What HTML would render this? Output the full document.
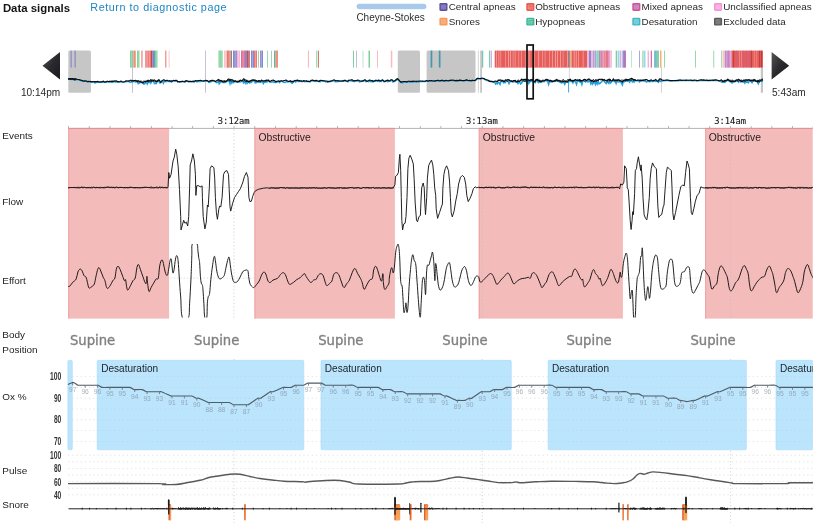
<!DOCTYPE html>
<html><head><meta charset="utf-8"><title>Data signals</title>
<style>
html,body{margin:0;padding:0;background:#fff;}
body{width:815px;height:523px;position:relative;overflow:hidden;font-family:"Liberation Sans",sans-serif;}
#labels div,#labels a{position:absolute;white-space:nowrap;text-decoration:none;}
</style></head><body>
<svg width="815" height="523" viewBox="0 0 815 523" style="position:absolute;left:0;top:0">
<defs><linearGradient id="arr" x1="0" y1="0" x2="1" y2="1"><stop offset="0" stop-color="#555"/><stop offset="0.5" stop-color="#2a2a2e"/><stop offset="1" stop-color="#1a1a1e"/></linearGradient><linearGradient id="sn" x1="0" y1="0" x2="0" y2="1"><stop offset="0" stop-color="#f08444"/><stop offset="0.4" stop-color="#f69a4e"/><stop offset="1" stop-color="#f8a860"/></linearGradient><clipPath id="eff"><rect x="68" y="244" width="747" height="73.6"/></clipPath></defs>
<rect x="357" y="4.2" width="69" height="4.6" rx="2" fill="#a6c9ec" stroke="#8fb8e2" stroke-width="0.6"/>
<rect x="439.4" y="3.0" width="8.1" height="7.9" rx="1.3" fill="#5d5299"/>
<rect x="440.8" y="4.4" width="5.3" height="5.1" rx="0.5" fill="#8878c2"/>
<rect x="526.3" y="3.0" width="8.1" height="7.9" rx="1.3" fill="#e85a55"/>
<rect x="527.7" y="4.4" width="5.3" height="5.1" rx="0.5" fill="#f0837a"/>
<rect x="632.3" y="3.0" width="8.1" height="7.9" rx="1.3" fill="#d4548e"/>
<rect x="633.7" y="4.4" width="5.3" height="5.1" rx="0.5" fill="#c987c8"/>
<rect x="714.0" y="3.0" width="8.1" height="7.9" rx="1.3" fill="#f497c4"/>
<rect x="715.4" y="4.4" width="5.3" height="5.1" rx="0.5" fill="#f8b0f0"/>
<rect x="439.4" y="17.7" width="8.1" height="7.9" rx="1.3" fill="#f5995a"/>
<rect x="440.8" y="19.1" width="5.3" height="5.1" rx="0.5" fill="#f8ae76"/>
<rect x="526.3" y="17.7" width="8.1" height="7.9" rx="1.3" fill="#3fb3a8"/>
<rect x="527.7" y="19.1" width="5.3" height="5.1" rx="0.5" fill="#80dc9e"/>
<rect x="632.3" y="17.7" width="8.1" height="7.9" rx="1.3" fill="#45b7c0"/>
<rect x="633.7" y="19.1" width="5.3" height="5.1" rx="0.5" fill="#74cde0"/>
<rect x="714.0" y="17.7" width="8.1" height="7.9" rx="1.3" fill="#58585e"/>
<rect x="715.4" y="19.1" width="5.3" height="5.1" rx="0.5" fill="#7c7c7c"/>
<path d="M528.9 24.2V20.4H532.9V24.2M530.9 21.6V24.2" fill="none" stroke="#3fb3a8" stroke-width="0.8"/>
<path d="M528.6 5 L531.6 8.6 M530.6 4.6 L533 7.6" fill="none" stroke="#e85a55" stroke-width="0.7"/>
<rect x="68.3" y="50.6" width="22.6" height="42.2" rx="1.5" fill="#c6c6c6"/>
<rect x="397.8" y="50.6" width="22.2" height="42.2" rx="1.5" fill="#c6c6c6"/>
<rect x="426.6" y="50.6" width="48.9" height="42.2" rx="1.5" fill="#c6c6c6"/>
<rect x="477.9" y="50.6" width="0.7" height="42.2" fill="#c6c6c6"/>
<rect x="480.2" y="50.6" width="1.8" height="42.2" fill="#c6c6c6"/>
<rect x="760.8" y="67.6" width="2.2" height="25.2" fill="#c6c6c6"/>
<rect x="132.2" y="50.6" width="0.8" height="42.2" fill="#b9b4cc"/>
<rect x="205.2" y="50.6" width="0.8" height="42.2" fill="#b9b4cc"/>
<rect x="661" y="67" width="0.8" height="25.8" fill="#c8c8c8"/>
<rect x="568.9" y="67" width="0.7" height="12" fill="#c8c8c8"/>
<rect x="70.6" y="50.6" width="1.0" height="17" fill="#7470c6" opacity="0.88"/>
<rect x="74.6" y="50.6" width="1.0" height="17" fill="#7470c6" opacity="0.88"/>
<rect x="130.0" y="50.6" width="2.4" height="17" fill="#6cc98c" opacity="0.62"/>
<rect x="130.0" y="50.6" width="0.6" height="17" fill="#6cc98c" opacity="0.95"/>
<rect x="131.8" y="50.6" width="0.6" height="17" fill="#6cc98c" opacity="0.95"/>
<rect x="133.4" y="50.6" width="1.4" height="17" fill="#e75d5a" opacity="0.88"/>
<rect x="134.8" y="50.6" width="1.2" height="17" fill="#f5a364" opacity="0.88"/>
<rect x="137.0" y="50.6" width="2.3" height="17" fill="#6cc98c" opacity="0.62"/>
<rect x="137.0" y="50.6" width="0.6" height="17" fill="#6cc98c" opacity="0.95"/>
<rect x="138.7" y="50.6" width="0.6" height="17" fill="#6cc98c" opacity="0.95"/>
<rect x="141.4" y="50.6" width="1.1" height="17" fill="#e75d5a" opacity="0.88"/>
<rect x="145.5" y="50.6" width="5.5" height="17" fill="#e75d5a" opacity="0.62"/>
<rect x="145.5" y="50.6" width="0.6" height="17" fill="#e75d5a" opacity="0.95"/>
<rect x="150.4" y="50.6" width="0.6" height="17" fill="#e75d5a" opacity="0.95"/>
<rect x="148.0" y="50.6" width="0.5" height="17" fill="#e75d5a" opacity="0.8"/>
<rect x="151.0" y="50.6" width="1.5" height="17" fill="#b83030" opacity="0.88"/>
<rect x="152.5" y="50.6" width="1.5" height="17" fill="#7470c6" opacity="0.88"/>
<rect x="154.0" y="50.6" width="1.3" height="17" fill="#3e9db8" opacity="0.88"/>
<rect x="155.3" y="50.6" width="2.0" height="17" fill="#6cc98c" opacity="0.62"/>
<rect x="155.3" y="50.6" width="0.6" height="17" fill="#6cc98c" opacity="0.95"/>
<rect x="156.7" y="50.6" width="0.6" height="17" fill="#6cc98c" opacity="0.95"/>
<rect x="165.3" y="50.6" width="1.0" height="17" fill="#e75d5a" opacity="0.88"/>
<rect x="168.7" y="50.6" width="0.8" height="17" fill="#f6b4b4" opacity="0.88"/>
<rect x="218.7" y="50.6" width="3.7" height="17" fill="#6cc98c" opacity="0.62"/>
<rect x="218.7" y="50.6" width="0.6" height="17" fill="#6cc98c" opacity="0.95"/>
<rect x="221.8" y="50.6" width="0.6" height="17" fill="#6cc98c" opacity="0.95"/>
<rect x="220.3" y="50.6" width="0.5" height="17" fill="#6cc98c" opacity="0.8"/>
<rect x="224.3" y="50.6" width="2.7" height="17" fill="#f6b4b4" opacity="0.62"/>
<rect x="224.3" y="50.6" width="0.6" height="17" fill="#f6b4b4" opacity="0.95"/>
<rect x="226.4" y="50.6" width="0.6" height="17" fill="#f6b4b4" opacity="0.95"/>
<rect x="227.0" y="50.6" width="3.5" height="17" fill="#e75d5a" opacity="0.62"/>
<rect x="227.0" y="50.6" width="0.6" height="17" fill="#e75d5a" opacity="0.95"/>
<rect x="229.9" y="50.6" width="0.6" height="17" fill="#e75d5a" opacity="0.95"/>
<rect x="228.5" y="50.6" width="0.5" height="17" fill="#e75d5a" opacity="0.8"/>
<rect x="231.0" y="50.6" width="1.0" height="17" fill="#4a9060" opacity="0.88"/>
<rect x="233.0" y="50.6" width="3.7" height="17" fill="#7470c6" opacity="0.62"/>
<rect x="233.0" y="50.6" width="0.6" height="17" fill="#7470c6" opacity="0.95"/>
<rect x="236.1" y="50.6" width="0.6" height="17" fill="#7470c6" opacity="0.95"/>
<rect x="234.6" y="50.6" width="0.5" height="17" fill="#7470c6" opacity="0.8"/>
<rect x="237.0" y="50.6" width="3.0" height="17" fill="#f3a9cf" opacity="0.62"/>
<rect x="237.0" y="50.6" width="0.6" height="17" fill="#f3a9cf" opacity="0.95"/>
<rect x="239.4" y="50.6" width="0.6" height="17" fill="#f3a9cf" opacity="0.95"/>
<rect x="241.0" y="50.6" width="3.8" height="17" fill="#d85080" opacity="0.62"/>
<rect x="241.0" y="50.6" width="0.6" height="17" fill="#d85080" opacity="0.95"/>
<rect x="244.2" y="50.6" width="0.6" height="17" fill="#d85080" opacity="0.95"/>
<rect x="242.7" y="50.6" width="0.5" height="17" fill="#d85080" opacity="0.8"/>
<rect x="245.0" y="50.6" width="2.0" height="17" fill="#7470c6" opacity="0.62"/>
<rect x="245.0" y="50.6" width="0.6" height="17" fill="#7470c6" opacity="0.95"/>
<rect x="246.4" y="50.6" width="0.6" height="17" fill="#7470c6" opacity="0.95"/>
<rect x="247.0" y="50.6" width="2.5" height="17" fill="#b83030" opacity="0.62"/>
<rect x="247.0" y="50.6" width="0.6" height="17" fill="#b83030" opacity="0.95"/>
<rect x="248.9" y="50.6" width="0.6" height="17" fill="#b83030" opacity="0.95"/>
<rect x="251.0" y="50.6" width="3.0" height="17" fill="#7470c6" opacity="0.62"/>
<rect x="251.0" y="50.6" width="0.6" height="17" fill="#7470c6" opacity="0.95"/>
<rect x="253.4" y="50.6" width="0.6" height="17" fill="#7470c6" opacity="0.95"/>
<rect x="254.0" y="50.6" width="3.0" height="17" fill="#e75d5a" opacity="0.62"/>
<rect x="254.0" y="50.6" width="0.6" height="17" fill="#e75d5a" opacity="0.95"/>
<rect x="256.4" y="50.6" width="0.6" height="17" fill="#e75d5a" opacity="0.95"/>
<rect x="258.0" y="50.6" width="0.8" height="17" fill="#6cc98c" opacity="0.88"/>
<rect x="260.3" y="50.6" width="2.7" height="17" fill="#7470c6" opacity="0.62"/>
<rect x="260.3" y="50.6" width="0.6" height="17" fill="#7470c6" opacity="0.95"/>
<rect x="262.4" y="50.6" width="0.6" height="17" fill="#7470c6" opacity="0.95"/>
<rect x="267.0" y="50.6" width="0.8" height="17" fill="#6cc98c" opacity="0.88"/>
<rect x="271.2" y="50.6" width="0.8" height="17" fill="#6cc98c" opacity="0.88"/>
<rect x="274.0" y="50.6" width="1.5" height="17" fill="#40b090" opacity="0.88"/>
<rect x="275.8" y="50.6" width="1.9" height="17" fill="#ee7050" opacity="0.62"/>
<rect x="275.8" y="50.6" width="0.6" height="17" fill="#ee7050" opacity="0.95"/>
<rect x="277.1" y="50.6" width="0.6" height="17" fill="#ee7050" opacity="0.95"/>
<rect x="307.9" y="50.6" width="1.1" height="17" fill="#f6b4b4" opacity="0.88"/>
<rect x="316.3" y="50.6" width="1.0" height="17" fill="#6cc98c" opacity="0.88"/>
<rect x="318.0" y="50.6" width="1.0" height="17" fill="#e75d5a" opacity="0.88"/>
<rect x="353.0" y="50.6" width="1.0" height="17" fill="#6cc98c" opacity="0.88"/>
<rect x="356.0" y="50.6" width="1.0" height="17" fill="#b8b0e0" opacity="0.88"/>
<rect x="362.6" y="50.6" width="0.8" height="17" fill="#a8dcb8" opacity="0.88"/>
<rect x="368.5" y="50.6" width="1.5" height="17" fill="#6cc98c" opacity="0.88"/>
<rect x="377.0" y="50.6" width="1.0" height="17" fill="#f6b4b4" opacity="0.88"/>
<rect x="390.8" y="50.6" width="1.5" height="17" fill="#f6b4b4" opacity="0.88"/>
<rect x="430.6" y="50.6" width="1.7" height="17" fill="#2f93ad" opacity="0.88"/>
<rect x="438.8" y="50.6" width="1.7" height="17" fill="#2f93ad" opacity="0.88"/>
<rect x="482.2" y="50.6" width="1.0" height="17" fill="#40b090" opacity="0.88"/>
<rect x="489.0" y="50.6" width="1.0" height="17" fill="#6cc98c" opacity="0.88"/>
<rect x="490.5" y="50.6" width="1.5" height="17" fill="#b8b0e0" opacity="0.88"/>
<rect x="494.7" y="50.6" width="74.3" height="17" fill="#e75d5a" opacity="1"/>
<rect x="569.0" y="50.6" width="1.0" height="17" fill="#3e9db8" opacity="0.88"/>
<rect x="570.0" y="50.6" width="1.5" height="17" fill="#f5a364" opacity="0.88"/>
<rect x="571.5" y="50.6" width="15.5" height="17" fill="#e75d5a" opacity="1"/>
<rect x="587.0" y="50.6" width="2.0" height="17" fill="#f3a9cf" opacity="0.62"/>
<rect x="587.0" y="50.6" width="0.6" height="17" fill="#f3a9cf" opacity="0.95"/>
<rect x="588.4" y="50.6" width="0.6" height="17" fill="#f3a9cf" opacity="0.95"/>
<rect x="589.0" y="50.6" width="2.0" height="17" fill="#7470c6" opacity="0.62"/>
<rect x="589.0" y="50.6" width="0.6" height="17" fill="#7470c6" opacity="0.95"/>
<rect x="590.4" y="50.6" width="0.6" height="17" fill="#7470c6" opacity="0.95"/>
<rect x="591.0" y="50.6" width="2.0" height="17" fill="#f3a9cf" opacity="0.62"/>
<rect x="591.0" y="50.6" width="0.6" height="17" fill="#f3a9cf" opacity="0.95"/>
<rect x="592.4" y="50.6" width="0.6" height="17" fill="#f3a9cf" opacity="0.95"/>
<rect x="593.0" y="50.6" width="3.0" height="17" fill="#a090d0" opacity="0.62"/>
<rect x="593.0" y="50.6" width="0.6" height="17" fill="#a090d0" opacity="0.95"/>
<rect x="595.4" y="50.6" width="0.6" height="17" fill="#a090d0" opacity="0.95"/>
<rect x="596.0" y="50.6" width="1.5" height="17" fill="#8fd0f0" opacity="0.88"/>
<rect x="597.5" y="50.6" width="2.0" height="17" fill="#6cc98c" opacity="0.62"/>
<rect x="597.5" y="50.6" width="0.6" height="17" fill="#6cc98c" opacity="0.95"/>
<rect x="598.9" y="50.6" width="0.6" height="17" fill="#6cc98c" opacity="0.95"/>
<rect x="599.5" y="50.6" width="4.0" height="17" fill="#c8609c" opacity="0.62"/>
<rect x="599.5" y="50.6" width="0.6" height="17" fill="#c8609c" opacity="0.95"/>
<rect x="602.9" y="50.6" width="0.6" height="17" fill="#c8609c" opacity="0.95"/>
<rect x="601.2" y="50.6" width="0.5" height="17" fill="#c8609c" opacity="0.8"/>
<rect x="603.5" y="50.6" width="1.0" height="17" fill="#f3a9cf" opacity="0.88"/>
<rect x="604.5" y="50.6" width="2.5" height="17" fill="#e75d5a" opacity="0.62"/>
<rect x="604.5" y="50.6" width="0.6" height="17" fill="#e75d5a" opacity="0.95"/>
<rect x="606.4" y="50.6" width="0.6" height="17" fill="#e75d5a" opacity="0.95"/>
<rect x="607.0" y="50.6" width="2.5" height="17" fill="#c8609c" opacity="0.62"/>
<rect x="607.0" y="50.6" width="0.6" height="17" fill="#c8609c" opacity="0.95"/>
<rect x="608.9" y="50.6" width="0.6" height="17" fill="#c8609c" opacity="0.95"/>
<rect x="609.5" y="50.6" width="2.1" height="17" fill="#f3a9cf" opacity="0.62"/>
<rect x="609.5" y="50.6" width="0.6" height="17" fill="#f3a9cf" opacity="0.95"/>
<rect x="611.0" y="50.6" width="0.6" height="17" fill="#f3a9cf" opacity="0.95"/>
<rect x="615.7" y="50.6" width="1.3" height="17" fill="#6cc98c" opacity="0.88"/>
<rect x="617.5" y="50.6" width="1.5" height="17" fill="#8fd0f0" opacity="0.88"/>
<rect x="619.5" y="50.6" width="1.5" height="17" fill="#b8b0e0" opacity="0.88"/>
<rect x="621.5" y="50.6" width="1.0" height="17" fill="#f3a9cf" opacity="0.88"/>
<rect x="622.8" y="50.6" width="2.2" height="17" fill="#7470c6" opacity="0.62"/>
<rect x="622.8" y="50.6" width="0.6" height="17" fill="#7470c6" opacity="0.95"/>
<rect x="624.4" y="50.6" width="0.6" height="17" fill="#7470c6" opacity="0.95"/>
<rect x="625.0" y="50.6" width="1.0" height="17" fill="#c8609c" opacity="0.88"/>
<rect x="631.0" y="50.6" width="0.8" height="17" fill="#a8dcb8" opacity="0.88"/>
<rect x="639.3" y="50.6" width="0.7" height="17" fill="#7470c6" opacity="0.88"/>
<rect x="642.4" y="50.6" width="1.1" height="17" fill="#6cc98c" opacity="0.88"/>
<rect x="644.0" y="50.6" width="1.5" height="17" fill="#8fd0f0" opacity="0.88"/>
<rect x="647.6" y="50.6" width="1.4" height="17" fill="#f3a9cf" opacity="0.88"/>
<rect x="650.7" y="50.6" width="1.3" height="17" fill="#c8609c" opacity="0.88"/>
<rect x="654.5" y="50.6" width="2.0" height="17" fill="#3e9db8" opacity="0.62"/>
<rect x="654.5" y="50.6" width="0.6" height="17" fill="#3e9db8" opacity="0.95"/>
<rect x="655.9" y="50.6" width="0.6" height="17" fill="#3e9db8" opacity="0.95"/>
<rect x="657.0" y="50.6" width="2.0" height="17" fill="#6cc98c" opacity="0.62"/>
<rect x="657.0" y="50.6" width="0.6" height="17" fill="#6cc98c" opacity="0.95"/>
<rect x="658.4" y="50.6" width="0.6" height="17" fill="#6cc98c" opacity="0.95"/>
<rect x="660.0" y="50.6" width="1.5" height="17" fill="#f5a364" opacity="0.88"/>
<rect x="664.0" y="50.6" width="0.8" height="17" fill="#6cc98c" opacity="0.88"/>
<rect x="695.0" y="50.6" width="0.8" height="17" fill="#6cc98c" opacity="0.88"/>
<rect x="713.4" y="50.6" width="0.8" height="17" fill="#6cc98c" opacity="0.88"/>
<rect x="721.0" y="50.6" width="0.7" height="17" fill="#6cc98c" opacity="0.88"/>
<rect x="722.7" y="50.6" width="2.3" height="17" fill="#f6b4b4" opacity="0.62"/>
<rect x="722.7" y="50.6" width="0.6" height="17" fill="#f6b4b4" opacity="0.95"/>
<rect x="724.4" y="50.6" width="0.6" height="17" fill="#f6b4b4" opacity="0.95"/>
<rect x="725.2" y="50.6" width="3.8" height="17" fill="#b070c0" opacity="0.62"/>
<rect x="725.2" y="50.6" width="0.6" height="17" fill="#b070c0" opacity="0.95"/>
<rect x="728.4" y="50.6" width="0.6" height="17" fill="#b070c0" opacity="0.95"/>
<rect x="726.9" y="50.6" width="0.5" height="17" fill="#b070c0" opacity="0.8"/>
<rect x="729.0" y="50.6" width="3.0" height="17" fill="#d878b0" opacity="0.62"/>
<rect x="729.0" y="50.6" width="0.6" height="17" fill="#d878b0" opacity="0.95"/>
<rect x="731.4" y="50.6" width="0.6" height="17" fill="#d878b0" opacity="0.95"/>
<rect x="732.0" y="50.6" width="31.0" height="17" fill="#e75d5a" opacity="1"/>
<rect x="496.0" y="50.6" width="0.6" height="17" fill="#f6b8b6"/>
<rect x="498.6" y="50.6" width="0.6" height="17" fill="#f6b8b6"/>
<rect x="500.6" y="50.6" width="0.5" height="17" fill="#f6b8b6"/>
<rect x="505.0" y="50.6" width="0.5" height="17" fill="#f6b8b6"/>
<rect x="508.2" y="50.6" width="0.7" height="17" fill="#f6b8b6"/>
<rect x="510.2" y="50.6" width="0.7" height="17" fill="#f6b8b6"/>
<rect x="512.8" y="50.6" width="0.5" height="17" fill="#f6b8b6"/>
<rect x="514.8" y="50.6" width="0.6" height="17" fill="#f6b8b6"/>
<rect x="518.6" y="50.6" width="0.5" height="17" fill="#f6b8b6"/>
<rect x="521.2" y="50.6" width="0.5" height="17" fill="#f6b8b6"/>
<rect x="525.6" y="50.6" width="0.6" height="17" fill="#f6b8b6"/>
<rect x="527.6" y="50.6" width="0.7" height="17" fill="#f6b8b6"/>
<rect x="529.6" y="50.6" width="0.5" height="17" fill="#f6b8b6"/>
<rect x="534.0" y="50.6" width="0.5" height="17" fill="#f6b8b6"/>
<rect x="538.4" y="50.6" width="0.7" height="17" fill="#f6b8b6"/>
<rect x="542.2" y="50.6" width="0.5" height="17" fill="#f6b8b6"/>
<rect x="544.8" y="50.6" width="0.5" height="17" fill="#f6b8b6"/>
<rect x="549.2" y="50.6" width="0.5" height="17" fill="#f6b8b6"/>
<rect x="552.4" y="50.6" width="0.6" height="17" fill="#f6b8b6"/>
<rect x="555.0" y="50.6" width="0.7" height="17" fill="#f6b8b6"/>
<rect x="557.0" y="50.6" width="0.7" height="17" fill="#f6b8b6"/>
<rect x="560.2" y="50.6" width="0.7" height="17" fill="#f6b8b6"/>
<rect x="562.8" y="50.6" width="0.5" height="17" fill="#f6b8b6"/>
<rect x="567.2" y="50.6" width="0.7" height="17" fill="#f6b8b6"/>
<rect x="573.8" y="50.6" width="0.7" height="17" fill="#f6b8b6"/>
<rect x="575.8" y="50.6" width="0.7" height="17" fill="#f6b8b6"/>
<rect x="578.4" y="50.6" width="0.6" height="17" fill="#f6b8b6"/>
<rect x="582.8" y="50.6" width="0.6" height="17" fill="#f6b8b6"/>
<rect x="733.5" y="50.6" width="0.6" height="17" fill="#a02828"/>
<rect x="736.5" y="50.6" width="0.6" height="17" fill="#c060a0"/>
<rect x="739.1" y="50.6" width="0.6" height="17" fill="#f0a0a0"/>
<rect x="741.3" y="50.6" width="0.6" height="17" fill="#f0a0a0"/>
<rect x="743.1" y="50.6" width="0.6" height="17" fill="#c060a0"/>
<rect x="746.1" y="50.6" width="0.6" height="17" fill="#c060a0"/>
<rect x="749.1" y="50.6" width="0.6" height="17" fill="#c060a0"/>
<rect x="750.9" y="50.6" width="0.6" height="17" fill="#a02828"/>
<rect x="753.9" y="50.6" width="0.6" height="17" fill="#f0a0a0"/>
<rect x="756.5" y="50.6" width="0.6" height="17" fill="#f0a0a0"/>
<rect x="759.5" y="50.6" width="0.6" height="17" fill="#a02828"/>
<rect x="761.3" y="50.6" width="0.6" height="17" fill="#a02828"/>
<polyline points="68.0,79.1 68.9,79.2 69.8,79.2 70.7,79.3 71.6,79.4 72.5,79.5 73.4,79.6 74.3,79.8 75.2,79.7 76.1,79.5 77.0,79.6 77.9,79.8 78.8,80.0 79.7,80.2 80.6,80.5 81.5,80.7 82.4,81.0 83.3,81.2 84.2,81.3 85.1,81.2 86.0,81.3 86.9,81.6 87.8,81.8 88.7,81.8 89.6,81.8 90.5,82.1 91.4,82.0 92.3,82.0 93.2,82.0 94.1,82.1 95.0,82.8 95.9,82.5 96.8,81.8 97.7,82.3 98.6,82.1 99.5,82.3 100.4,82.2 101.3,82.3 102.2,81.9 103.1,82.3 104.0,81.9 104.9,82.2 105.8,82.2 106.7,81.9 107.6,81.7 108.5,81.7 109.4,82.2 110.3,81.8 111.2,82.3 112.1,82.4 113.0,82.1 113.9,81.5 114.8,81.7 115.7,82.2 116.6,81.5 117.5,82.1 118.4,81.9 119.3,81.9 120.2,81.8 121.1,81.6 122.0,81.9 122.9,82.1 123.8,82.0 124.7,81.8 125.6,81.7 126.5,81.4 127.4,81.5 128.3,81.4 129.2,81.7 130.1,82.4 131.0,81.9 131.9,81.9 132.8,81.4 133.7,81.4 134.6,81.3 135.5,82.0 136.4,81.8 137.3,81.8 138.2,83.6 139.1,83.1 140.0,82.2 140.9,82.6 141.8,82.6 142.7,83.1 143.6,84.1 144.5,84.1 145.4,82.8 146.3,81.8 147.2,83.9 148.1,81.6 149.0,82.6 149.9,81.5 150.8,83.1 151.7,81.3 152.6,81.2 153.5,81.1 154.4,83.6 155.3,83.2 156.2,83.5 157.1,81.4 158.0,80.8 158.9,81.6 159.8,82.9 160.7,82.8 161.6,81.8 162.5,81.0 163.4,83.2 164.3,81.2 165.2,81.0 166.1,81.8 167.0,80.9 167.9,81.0 168.8,81.4 169.7,81.4 170.6,81.4 171.5,82.0 172.4,81.3 173.3,81.1 174.2,81.1 175.1,81.2 176.0,80.9 176.9,81.3 177.8,81.7 178.7,81.7 179.6,81.8 180.5,81.8 181.4,81.6 182.3,81.6 183.2,81.5 184.1,81.5 185.0,82.2 185.9,81.3 186.8,81.2 187.7,81.3 188.6,81.9 189.5,81.7 190.4,81.7 191.3,82.0 192.2,81.7 193.1,81.8 194.0,82.2 194.9,81.3 195.8,81.2 196.7,81.8 197.6,81.4 198.5,81.5 199.4,81.5 200.3,81.4 201.2,81.2 202.1,81.2 203.0,81.2 203.9,81.1 204.8,81.1 205.7,80.9 206.6,80.8 207.5,81.1 208.4,81.7 209.3,82.4 210.2,81.6 211.1,81.8 212.0,81.2 212.9,81.1 213.8,80.7 214.7,81.1 215.6,81.9 216.5,82.7 217.4,82.3 218.3,81.2 219.2,83.9 220.1,82.6 221.0,81.5 221.9,81.8 222.8,82.4 223.7,82.4 224.6,82.4 225.5,82.2 226.4,81.6 227.3,81.2 228.2,81.3 229.1,80.7 230.0,83.6 230.9,80.7 231.8,83.1 232.7,81.6 233.6,82.6 234.5,81.5 235.4,81.7 236.3,82.0 237.2,82.2 238.1,82.1 239.0,81.7 239.9,81.5 240.8,81.8 241.7,81.2 242.6,81.0 243.5,82.8 244.4,80.8 245.3,83.1 246.2,81.2 247.1,83.4 248.0,82.1 248.9,82.1 249.8,83.0 250.7,81.2 251.6,82.2 252.5,80.9 253.4,80.8 254.3,80.6 255.2,83.0 256.1,82.9 257.0,81.9 257.9,81.7 258.8,82.1 259.7,81.9 260.6,82.3 261.5,81.7 262.4,81.4 263.3,83.4 264.2,81.6 265.1,82.2 266.0,81.4 266.9,82.0 267.8,81.4 268.7,81.1 269.6,81.7 270.5,81.9 271.4,81.9 272.3,82.0 273.2,81.2 274.1,82.5 275.0,81.9 275.9,82.5 276.8,82.0 277.7,81.8 278.6,81.8 279.5,82.6 280.4,81.4 281.3,81.0 282.2,81.2 283.1,82.0 284.0,82.2 284.9,82.4 285.8,82.0 286.7,81.6 287.6,82.0 288.5,81.8 289.4,81.5 290.3,81.4 291.2,82.7 292.1,83.3 293.0,82.4 293.9,81.4 294.8,81.4 295.7,82.0 296.6,81.0 297.5,81.2 298.4,81.6 299.3,81.5 300.2,81.2 301.1,81.3 302.0,81.7 302.9,81.3 303.8,81.3 304.7,81.7 305.6,81.5 306.5,81.3 307.4,81.4 308.3,81.4 309.2,82.0 310.1,81.8 311.0,81.1 311.9,81.1 312.8,80.7 313.7,80.8 314.6,81.2 315.5,81.2 316.4,81.5 317.3,81.1 318.2,81.5 319.1,81.4 320.0,81.8 320.9,80.9 321.8,80.8 322.7,81.0 323.6,81.3 324.5,81.2 325.4,81.7 326.3,81.8 327.2,82.1 328.1,81.6 329.0,81.7 329.9,81.3 330.8,81.7 331.7,81.0 332.6,81.0 333.5,80.8 334.4,80.7 335.3,81.7 336.2,81.2 337.1,81.8 338.0,81.6 338.9,81.2 339.8,81.1 340.7,81.5 341.6,81.3 342.5,81.3 343.4,81.2 344.3,81.1 345.2,80.9 346.1,81.1 347.0,81.4 347.9,81.8 348.8,80.8 349.7,80.8 350.6,80.5 351.5,80.8 352.4,81.1 353.3,80.8 354.2,81.5 355.1,81.0 356.0,80.9 356.9,80.8 357.8,80.9 358.7,80.9 359.6,81.9 360.5,81.6 361.4,81.3 362.3,81.2 363.2,81.2 364.1,80.8 365.0,80.4 365.9,81.6 366.8,81.3 367.7,81.3 368.6,81.6 369.5,81.0 370.4,81.7 371.3,81.3 372.2,81.7 373.1,81.9 374.0,81.2 374.9,81.1 375.8,81.2 376.7,80.5 377.6,81.3 378.5,80.9 379.4,81.6 380.3,81.1 381.2,81.6 382.1,80.6 383.0,80.6 383.9,81.7 384.8,81.8 385.7,81.2 386.6,80.8 387.5,81.6 388.4,81.5 389.3,81.0 390.2,80.9 391.1,80.4 392.0,80.7 392.9,81.9 393.8,81.3 394.7,81.4 395.6,80.6 396.5,80.3 397.4,78.9 398.3,79.6 399.2,80.6 400.1,82.0 401.0,82.5 401.9,82.2 402.8,82.8 403.7,81.9 404.6,82.1 405.5,81.9 406.4,82.3 407.3,82.0 408.2,81.7 409.1,81.5 410.0,82.3 410.9,81.9 411.8,81.7 412.7,82.1 413.6,81.7 414.5,81.7 415.4,81.8 416.3,82.2 417.2,81.6 418.1,81.7 419.0,81.9 419.9,81.5 420.8,81.4 421.7,81.4 422.6,81.4 423.5,81.5 424.4,81.5 425.3,81.4 426.2,81.1 427.1,81.1 428.0,81.2 428.9,81.2 429.8,81.1 430.7,80.9 431.6,80.9 432.5,81.2 433.4,81.2 434.3,81.2 435.2,81.2 436.1,81.0 437.0,80.8 437.9,80.8 438.8,80.9 439.7,81.0 440.6,80.9 441.5,80.7 442.4,80.7 443.3,81.0 444.2,81.1 445.1,80.9 446.0,80.7 446.9,80.7 447.8,80.9 448.7,81.0 449.6,80.8 450.5,80.5 451.4,80.5 452.3,80.6 453.2,80.6 454.1,80.7 455.0,80.7 455.9,80.8 456.8,80.8 457.7,80.8 458.6,80.7 459.5,80.6 460.4,80.6 461.3,80.7 462.2,80.7 463.1,80.8 464.0,80.8 464.9,80.6 465.8,80.4 466.7,80.4 467.6,80.6 468.5,80.7 469.4,80.7 470.3,80.8 471.2,80.7 472.1,80.7 473.0,80.6 473.9,80.6 474.8,80.7 475.7,80.1 476.6,79.4 477.5,78.7 478.4,78.5 479.3,78.8 480.2,78.9 481.1,78.6 482.0,78.3 482.9,78.6 483.8,78.9 484.7,79.4 485.6,79.8 486.5,80.1 487.4,80.5 488.3,80.8 489.2,81.2 490.1,81.5 491.0,81.6 491.9,81.7 492.8,81.8 493.7,81.9 494.6,81.8 495.5,83.9 496.4,83.1 497.3,83.9 498.2,82.3 499.1,82.6 500.0,84.3 500.9,81.7 501.8,81.2 502.7,81.3 503.6,82.8 504.5,82.4 505.4,82.6 506.3,80.8 507.2,80.7 508.1,81.4 509.0,83.6 509.9,81.7 510.8,81.6 511.7,81.6 512.6,81.9 513.5,82.0 514.4,81.3 515.3,81.5 516.2,82.4 517.1,81.8 518.0,83.6 518.9,82.2 519.8,82.3 520.7,84.0 521.6,83.1 522.5,81.6 523.4,81.1 524.3,80.6 525.2,81.5 526.1,80.4 527.0,82.5 527.9,81.1 528.8,83.5 529.7,81.2 530.6,81.8 531.5,80.6 532.4,81.6 533.3,81.2 534.2,82.2 535.1,82.7 536.0,80.9 536.9,80.4 537.8,82.1 538.7,82.8 539.6,81.6 540.5,81.9 541.4,82.2 542.3,81.6 543.2,81.5 544.1,81.7 545.0,80.8 545.9,80.7 546.8,80.8 547.7,81.2 548.6,84.3 549.5,81.3 550.4,81.7 551.3,81.6 552.2,81.7 553.1,81.4 554.0,81.4 554.9,81.2 555.8,81.0 556.7,80.7 557.6,81.3 558.5,81.1 559.4,81.9 560.3,81.7 561.2,82.9 562.1,81.8 563.0,82.7 563.9,81.8 564.8,84.2 565.7,81.8 566.6,81.8 567.5,81.7 568.4,82.5 569.3,80.6 570.2,80.6 571.1,81.5 572.0,81.4 572.9,82.9 573.8,81.1 574.7,81.1 575.6,81.9 576.5,84.3 577.4,80.7 578.3,81.2 579.2,81.2 580.1,82.1 581.0,81.2 581.9,84.4 582.8,80.9 583.7,81.1 584.6,81.1 585.5,81.9 586.4,80.7 587.3,81.8 588.2,82.0 589.1,80.9 590.0,81.5 590.9,83.9 591.8,81.4 592.7,84.0 593.6,82.5 594.5,81.7 595.4,84.4 596.3,81.9 597.2,83.9 598.1,81.0 599.0,83.8 599.9,83.6 600.8,82.3 601.7,82.0 602.6,80.3 603.5,80.5 604.4,81.6 605.3,82.7 606.2,83.5 607.1,81.3 608.0,82.8 608.9,83.5 609.8,80.6 610.7,82.8 611.6,81.8 612.5,81.0 613.4,80.1 614.3,81.7 615.2,81.0 616.1,83.4 617.0,80.6 617.9,81.8 618.8,82.0 619.7,81.6 620.6,81.7 621.5,83.3 622.4,85.0 623.3,81.4 624.2,81.8 625.1,81.2 626.0,80.8 626.9,81.1 627.8,80.6 628.7,80.9 629.6,82.2 630.5,80.4 631.4,79.9 632.3,81.9 633.2,81.1 634.1,82.0 635.0,80.5 635.9,80.8 636.8,80.8 637.7,80.7 638.6,80.9 639.5,81.9 640.4,81.1 641.3,81.1 642.2,80.6 643.1,80.7 644.0,80.9 644.9,81.1 645.8,81.5 646.7,82.0 647.6,80.9 648.5,81.5 649.4,81.4 650.3,81.6 651.2,80.7 652.1,81.4 653.0,81.4 653.9,81.2 654.8,80.8 655.7,81.4 656.6,81.0 657.5,81.3 658.4,82.2 659.3,80.6 660.2,81.4 661.1,80.6 662.0,81.1 662.9,80.5 663.8,80.7 664.7,80.7 665.6,80.5 666.5,80.3 667.4,80.5 668.3,80.6 669.2,80.7 670.1,80.7 671.0,80.7 671.9,80.7 672.8,80.7 673.7,80.7 674.6,80.7 675.5,80.6 676.4,80.7 677.3,80.8 678.2,80.7 679.1,80.5 680.0,80.5 680.9,80.6 681.8,80.6 682.7,80.6 683.6,80.6 684.5,80.6 685.4,80.6 686.3,80.6 687.2,80.5 688.1,80.5 689.0,80.5 689.9,80.5 690.8,80.5 691.7,80.6 692.6,80.8 693.5,80.7 694.4,80.5 695.3,80.5 696.2,80.7 697.1,80.8 698.0,80.7 698.9,80.5 699.8,80.5 700.7,80.4 701.6,80.4 702.5,80.4 703.4,80.4 704.3,80.4 705.2,80.5 706.1,80.5 707.0,80.6 707.9,80.7 708.8,80.7 709.7,80.6 710.6,80.5 711.5,80.5 712.4,80.5 713.3,80.5 714.2,80.5 715.1,80.5 716.0,80.4 716.9,80.4 717.8,80.6 718.7,80.9 719.6,80.9 720.5,81.3 721.4,82.1 722.3,82.2 723.2,82.0 724.1,81.6 725.0,82.2 725.9,81.2 726.8,80.8 727.7,80.3 728.6,80.5 729.5,81.5 730.4,81.3 731.3,82.4 732.2,83.0 733.1,81.9 734.0,81.9 734.9,81.7 735.8,81.2 736.7,81.1 737.6,80.6 738.5,82.0 739.4,80.6 740.3,81.9 741.2,81.8 742.1,81.5 743.0,82.0 743.9,81.7 744.8,83.1 745.7,81.2 746.6,82.1 747.5,81.9 748.4,82.7 749.3,81.0 750.2,81.0 751.1,81.8 752.0,82.7 752.9,81.1 753.8,80.8 754.7,80.7 755.6,81.1 756.5,81.6 757.4,81.8 758.3,83.8 759.2,81.6 760.1,81.3 761.0,80.8 761.9,81.4 762.8,80.3" fill="none" stroke="#1f9fe0" stroke-width="1.5"/>
<line x1="568.6" y1="81" x2="568.6" y2="92.5" stroke="#1f9fe0" stroke-width="0.9"/>
<polyline points="68.0,78.9 68.9,78.9 69.8,78.5 70.7,79.3 71.6,79.0 72.5,78.8 73.4,79.2 74.3,79.6 75.2,79.9 76.1,79.0 77.0,79.3 77.9,79.5 78.8,79.5 79.7,79.7 80.6,80.1 81.5,80.2 82.4,80.6 83.3,81.0 84.2,81.1 85.1,80.9 86.0,81.0 86.9,81.3 87.8,81.7 88.7,81.4 89.6,81.5 90.5,81.4 91.4,81.9 92.3,81.6 93.2,81.7 94.1,81.5 95.0,82.1 95.9,81.5 96.8,81.8 97.7,81.4 98.6,81.7 99.5,82.0 100.4,81.8 101.3,81.9 102.2,81.9 103.1,81.1 104.0,81.7 104.9,82.1 105.8,81.9 106.7,81.4 107.6,81.2 108.5,81.7 109.4,81.2 110.3,81.4 111.2,81.4 112.1,81.1 113.0,81.4 113.9,80.9 114.8,81.2 115.7,80.8 116.6,81.1 117.5,81.6 118.4,81.6 119.3,81.8 120.2,81.6 121.1,81.1 122.0,81.9 122.9,82.0 123.8,82.0 124.7,81.7 125.6,81.1 126.5,80.9 127.4,81.0 128.3,80.9 129.2,81.1 130.1,80.4 131.0,80.2 131.9,81.1 132.8,80.4 133.7,80.7 134.6,80.5 135.5,80.4 136.4,80.8 137.3,81.7 138.2,80.7 139.1,81.3 140.0,81.3 140.9,82.2 141.8,82.3 142.7,82.8 143.6,82.7 144.5,81.2 145.4,81.4 146.3,81.0 147.2,81.3 148.1,80.1 149.0,80.8 149.9,81.0 150.8,79.5 151.7,80.6 152.6,80.0 153.5,80.5 154.4,79.9 155.3,80.6 156.2,81.8 157.1,81.2 158.0,80.2 158.9,79.7 159.8,80.9 160.7,82.5 161.6,81.0 162.5,80.5 163.4,79.9 164.3,79.9 165.2,80.9 166.1,80.5 167.0,80.2 167.9,80.9 168.8,81.0 169.7,80.6 170.6,81.3 171.5,80.9 172.4,81.1 173.3,80.4 174.2,80.5 175.1,80.6 176.0,80.2 176.9,80.5 177.8,81.8 178.7,81.6 179.6,81.9 180.5,81.6 181.4,81.8 182.3,81.3 183.2,81.6 184.1,81.7 185.0,81.4 185.9,80.6 186.8,80.9 187.7,81.3 188.6,81.4 189.5,81.4 190.4,81.2 191.3,81.4 192.2,81.5 193.1,81.0 194.0,81.5 194.9,81.0 195.8,80.6 196.7,80.8 197.6,80.8 198.5,80.6 199.4,80.5 200.3,80.3 201.2,80.5 202.1,80.8 203.0,81.0 203.9,80.8 204.8,80.8 205.7,80.3 206.6,80.6 207.5,80.5 208.4,81.6 209.3,81.4 210.2,80.6 211.1,80.9 212.0,80.3 212.9,80.3 213.8,80.7 214.7,81.1 215.6,81.4 216.5,80.8 217.4,80.3 218.3,79.4 219.2,80.0 220.1,80.7 221.0,80.4 221.9,81.4 222.8,81.7 223.7,81.9 224.6,81.5 225.5,81.7 226.4,81.1 227.3,80.4 228.2,79.0 229.1,79.1 230.0,80.5 230.9,79.4 231.8,80.0 232.7,79.9 233.6,80.9 234.5,81.4 235.4,80.8 236.3,81.2 237.2,81.9 238.1,81.4 239.0,81.8 239.9,80.3 240.8,80.4 241.7,80.8 242.6,80.2 243.5,78.9 244.4,79.2 245.3,80.0 246.2,80.2 247.1,81.3 248.0,81.4 248.9,81.9 249.8,81.2 250.7,80.8 251.6,80.6 252.5,79.9 253.4,79.8 254.3,80.5 255.2,80.0 256.1,80.9 257.0,81.2 257.9,81.5 258.8,80.6 259.7,81.2 260.6,81.3 261.5,80.0 262.4,80.9 263.3,80.7 264.2,81.2 265.1,80.3 266.0,81.1 266.9,79.9 267.8,80.4 268.7,80.1 269.6,81.6 270.5,81.2 271.4,80.6 272.3,80.3 273.2,80.1 274.1,80.5 275.0,81.0 275.9,81.8 276.8,81.2 277.7,81.1 278.6,80.8 279.5,81.5 280.4,81.0 281.3,80.7 282.2,81.0 283.1,81.0 284.0,80.5 284.9,80.5 285.8,80.0 286.7,80.6 287.6,81.0 288.5,81.4 289.4,81.5 290.3,80.6 291.2,81.6 292.1,81.2 293.0,81.8 293.9,80.9 294.8,80.4 295.7,80.7 296.6,80.4 297.5,80.1 298.4,80.6 299.3,80.5 300.2,81.2 301.1,80.8 302.0,81.1 302.9,81.2 303.8,80.6 304.7,80.9 305.6,81.0 306.5,80.7 307.4,81.5 308.3,81.4 309.2,81.4 310.1,81.3 311.0,80.4 311.9,80.4 312.8,80.0 313.7,80.7 314.6,80.6 315.5,80.6 316.4,80.4 317.3,80.8 318.2,81.0 319.1,81.5 320.0,80.5 320.9,80.3 321.8,80.5 322.7,80.6 323.6,80.7 324.5,80.8 325.4,81.0 326.3,81.0 327.2,81.1 328.1,81.8 329.0,81.3 329.9,81.5 330.8,81.0 331.7,80.9 332.6,80.5 333.5,80.0 334.4,79.9 335.3,80.6 336.2,80.7 337.1,80.6 338.0,80.8 338.9,80.8 339.8,81.0 340.7,81.0 341.6,81.0 342.5,80.7 343.4,81.0 344.3,80.3 345.2,80.3 346.1,80.8 347.0,81.1 347.9,81.1 348.8,80.1 349.7,80.2 350.6,80.0 351.5,79.7 352.4,79.9 353.3,80.8 354.2,80.8 355.1,80.6 356.0,80.5 356.9,80.4 357.8,80.1 358.7,80.2 359.6,80.7 360.5,81.0 361.4,81.3 362.3,80.8 363.2,80.8 364.1,80.1 365.0,79.8 365.9,80.4 366.8,81.3 367.7,81.1 368.6,80.6 369.5,80.0 370.4,80.3 371.3,80.6 372.2,80.5 373.1,81.4 374.0,80.9 374.9,80.6 375.8,80.2 376.7,80.5 377.6,80.7 378.5,80.1 379.4,80.4 380.3,81.1 381.2,80.4 382.1,79.9 383.0,80.3 383.9,81.0 384.8,81.5 385.7,80.9 386.6,80.5 387.5,80.1 388.4,80.4 389.3,81.0 390.2,80.4 391.1,79.7 392.0,79.8 392.9,80.6 393.8,81.3 394.7,80.7 395.6,80.0 396.5,79.2 397.4,78.7 398.3,79.5 399.2,80.4 400.1,81.5 401.0,82.2 401.9,81.7 402.8,81.8 403.7,81.6 404.6,81.5 405.5,81.5 406.4,81.9 407.3,81.7 408.2,81.2 409.1,81.2 410.0,81.3 410.9,81.5 411.8,81.4 412.7,81.4 413.6,81.1 414.5,81.2 415.4,81.2 416.3,81.4 417.2,81.3 418.1,81.2 419.0,81.1 419.9,81.0 420.8,81.0 421.7,81.2 422.6,81.1 423.5,81.2 424.4,81.2 425.3,81.3 426.2,80.6 427.1,80.8 428.0,81.1 428.9,80.8 429.8,80.6 430.7,80.7 431.6,80.5 432.5,80.8 433.4,81.0 434.3,80.8 435.2,81.0 436.1,80.6 437.0,80.5 437.9,80.2 438.8,80.6 439.7,80.8 440.6,80.6 441.5,80.4 442.4,80.2 443.3,80.8 444.2,80.9 445.1,80.8 446.0,80.4 446.9,80.5 447.8,80.7 448.7,80.7 449.6,80.4 450.5,80.4 451.4,80.2 452.3,80.1 453.2,80.2 454.1,80.2 455.0,80.6 455.9,80.6 456.8,80.4 457.7,80.6 458.6,80.6 459.5,80.1 460.4,80.4 461.3,80.3 462.2,80.5 463.1,80.6 464.0,80.6 464.9,80.5 465.8,80.1 466.7,79.9 467.6,80.3 468.5,80.5 469.4,80.4 470.3,80.6 471.2,80.7 472.1,80.2 473.0,80.4 473.9,80.5 474.8,80.4 475.7,80.0 476.6,78.9 477.5,78.3 478.4,78.5 479.3,78.5 480.2,78.7 481.1,78.4 482.0,78.2 482.9,78.2 483.8,78.5 484.7,78.9 485.6,79.6 486.5,79.7 487.4,80.0 488.3,80.3 489.2,81.1 490.1,81.4 491.0,81.3 491.9,81.4 492.8,81.8 493.7,81.8 494.6,81.3 495.5,81.0 496.4,81.3 497.3,81.8 498.2,80.1 499.1,80.4 500.0,79.8 500.9,80.2 501.8,80.3 502.7,81.0 503.6,81.3 504.5,81.3 505.4,79.9 506.3,80.2 507.2,79.9 508.1,79.6 509.0,79.7 509.9,80.7 510.8,81.0 511.7,81.0 512.6,81.4 513.5,80.5 514.4,80.9 515.3,80.3 516.2,81.4 517.1,81.9 518.0,81.5 518.9,81.3 519.8,81.1 520.7,80.1 521.6,79.0 522.5,79.8 523.4,79.6 524.3,79.3 525.2,80.0 526.1,79.0 527.0,79.5 527.9,79.6 528.8,80.0 529.7,80.7 530.6,79.9 531.5,80.0 532.4,79.2 533.3,80.5 534.2,81.5 535.1,81.8 536.0,79.4 536.9,79.7 537.8,79.2 538.7,80.8 539.6,80.1 540.5,81.9 541.4,81.3 542.3,80.7 543.2,81.0 544.1,80.8 545.0,80.4 545.9,79.6 546.8,79.3 547.7,79.8 548.6,80.0 549.5,81.0 550.4,80.3 551.3,80.6 552.2,81.6 553.1,81.5 554.0,81.2 554.9,80.4 555.8,80.1 556.7,79.4 557.6,80.7 558.5,80.9 559.4,80.8 560.3,81.1 561.2,81.7 562.1,82.0 563.0,80.9 563.9,81.7 564.8,81.7 565.7,81.4 566.6,82.0 567.5,81.9 568.4,80.4 569.3,80.2 570.2,79.1 571.1,80.2 572.0,80.8 572.9,80.3 573.8,80.6 574.7,80.4 575.6,79.5 576.5,80.2 577.4,80.2 578.3,80.3 579.2,79.6 580.1,81.2 581.0,80.6 581.9,80.6 582.8,80.7 583.7,79.5 584.6,79.4 585.5,79.6 586.4,80.3 587.3,80.2 588.2,79.1 589.1,79.1 590.0,79.7 590.9,81.1 591.8,80.4 592.7,80.6 593.6,81.7 594.5,81.1 595.4,80.9 596.3,81.1 597.2,80.0 598.1,80.2 599.0,79.4 599.9,79.2 600.8,79.2 601.7,79.4 602.6,79.3 603.5,80.0 604.4,79.8 605.3,80.5 606.2,80.8 607.1,81.1 608.0,79.7 608.9,79.4 609.8,79.2 610.7,80.5 611.6,80.8 612.5,80.6 613.4,78.8 614.3,80.2 615.2,80.9 616.1,80.1 617.0,80.8 617.9,80.1 618.8,79.9 619.7,80.7 620.6,81.0 621.5,81.3 622.4,82.2 623.3,80.8 624.2,79.9 625.1,80.6 626.0,79.1 626.9,80.0 627.8,79.6 628.7,79.6 629.6,79.2 630.5,78.8 631.4,78.4 632.3,78.6 633.2,79.4 634.1,79.5 635.0,80.3 635.9,80.4 636.8,80.5 637.7,80.0 638.6,80.0 639.5,80.4 640.4,80.1 641.3,80.6 642.2,80.1 643.1,80.5 644.0,79.8 644.9,80.3 645.8,79.5 646.7,79.6 647.6,80.2 648.5,80.6 649.4,81.0 650.3,80.2 651.2,79.8 652.1,80.7 653.0,80.6 653.9,80.4 654.8,80.4 655.7,79.4 656.6,80.3 657.5,81.2 658.4,81.0 659.3,79.1 660.2,78.9 661.1,79.3 662.0,80.0 662.9,80.2 663.8,80.4 664.7,80.3 665.6,80.2 666.5,80.0 667.4,80.1 668.3,80.3 669.2,80.4 670.1,80.6 671.0,80.5 671.9,80.6 672.8,80.6 673.7,80.5 674.6,80.5 675.5,80.6 676.4,80.5 677.3,80.4 678.2,80.4 679.1,80.1 680.0,80.1 680.9,80.1 681.8,80.5 682.7,80.2 683.6,80.2 684.5,80.3 685.4,80.4 686.3,80.1 687.2,80.2 688.1,80.2 689.0,80.3 689.9,80.2 690.8,80.0 691.7,80.5 692.6,80.4 693.5,80.3 694.4,80.1 695.3,80.2 696.2,80.2 697.1,80.6 698.0,80.5 698.9,80.3 699.8,80.1 700.7,79.8 701.6,79.9 702.5,80.1 703.4,79.9 704.3,80.1 705.2,80.3 706.1,80.3 707.0,80.1 707.9,80.5 708.8,80.3 709.7,80.3 710.6,80.3 711.5,80.2 712.4,80.1 713.3,80.4 714.2,80.1 715.1,79.9 716.0,79.9 716.9,80.2 717.8,80.3 718.7,80.8 719.6,80.9 720.5,80.2 721.4,79.9 722.3,81.1 723.2,81.7 724.1,81.7 725.0,80.4 725.9,80.6 726.8,80.5 727.7,79.2 728.6,79.8 729.5,80.3 730.4,81.4 731.3,81.6 732.2,81.1 733.1,81.5 734.0,81.1 734.9,81.2 735.8,80.2 736.7,79.8 737.6,80.1 738.5,79.3 739.4,79.9 740.3,80.4 741.2,81.3 742.1,81.6 743.0,80.9 743.9,80.8 744.8,80.0 745.7,79.9 746.6,80.0 747.5,80.0 748.4,79.9 749.3,79.9 750.2,80.4 751.1,80.1 752.0,80.6 752.9,80.8 753.8,79.6 754.7,79.7 755.6,80.8 756.5,81.0 757.4,81.8 758.3,80.9 759.2,81.9 760.1,80.6 761.0,79.9 761.9,79.5 762.8,78.8" fill="none" stroke="#0c0c0c" stroke-width="1.15" stroke-linejoin="round"/>
<line x1="68.5" y1="78.8" x2="76.0" y2="79.1" stroke="#111" stroke-width="1.5"/>
<polyline points="132.0,80.8 132.8,80.7 133.6,81.0 134.4,80.7 135.2,80.8 136.0,81.1 136.8,80.9 137.6,80.7 138.4,82.0 139.2,81.9 140.0,81.9 140.8,80.7 141.6,81.4 142.4,81.9 143.2,81.2 144.0,81.3 144.8,81.8 145.6,81.9 146.4,81.4 147.2,80.9 148.0,81.6 148.8,81.6 149.6,80.9 150.4,81.2 151.2,81.5 152.0,80.8 152.8,81.0 153.6,81.3 154.4,81.0 155.2,81.7 156.0,80.9 156.8,81.1 157.6,81.6 158.4,80.5 159.2,80.9" fill="none" stroke="#0c0c0c" stroke-width="0.9"/>
<polyline points="218.0,80.4 218.8,81.0 219.6,81.6 220.4,80.7 221.2,81.6 222.0,80.3 222.8,81.6 223.6,80.6 224.4,80.6 225.2,80.5 226.0,81.5 226.8,80.4 227.6,80.1 228.4,80.1 229.2,80.9 230.0,81.0 230.8,80.6 231.6,81.1 232.4,80.8 233.2,81.4 234.0,80.6 234.8,81.2 235.6,80.8 236.4,81.6 237.2,81.1 238.0,81.5 238.8,80.7 239.6,81.1 240.4,80.2 241.2,80.3 242.0,81.0 242.8,80.4 243.6,81.3 244.4,80.1 245.2,81.3 246.0,81.4 246.8,81.6 247.6,80.4 248.4,81.0 249.2,81.0 250.0,81.1 250.8,80.6 251.6,80.1 252.4,80.6 253.2,80.8 254.0,80.1 254.8,80.6 255.6,81.5 256.4,80.2 257.2,81.3 258.0,80.4 258.8,80.9 259.6,80.1 260.4,81.3 261.2,81.0" fill="none" stroke="#0c0c0c" stroke-width="0.9"/>
<polyline points="498.0,80.5 498.8,80.6 499.6,80.6 500.4,80.9 501.2,81.1 502.0,81.2 502.8,79.9 503.6,81.4 504.4,81.8 505.2,80.6 506.0,80.5 506.8,80.9 507.6,81.5 508.4,80.7 509.2,80.6 510.0,80.3 510.8,81.5 511.6,80.5 512.4,81.8 513.2,81.0 514.0,80.3 514.8,80.5 515.6,81.8 516.4,81.6 517.2,81.7 518.0,79.8 518.8,80.3 519.6,81.6 520.4,80.4 521.2,80.9 522.0,80.4 522.8,81.0 523.6,80.6 524.4,81.4 525.2,81.2 526.0,80.6 526.8,80.7 527.6,79.8 528.4,81.1 529.2,80.6 530.0,79.8 530.8,79.9 531.6,80.2 532.4,80.5 533.2,80.7 534.0,81.0 534.8,81.6 535.6,80.0 536.4,80.1 537.2,80.5 538.0,80.5 538.8,81.2 539.6,81.5 540.4,80.9 541.2,81.1 542.0,81.2 542.8,79.8 543.6,80.4 544.4,80.4 545.2,79.8 546.0,80.3 546.8,80.0 547.6,81.0 548.4,80.2 549.2,80.3 550.0,81.5 550.8,80.6 551.6,81.6 552.4,80.9 553.2,80.7 554.0,81.2 554.8,80.0 555.6,81.4 556.4,80.4 557.2,79.7 558.0,80.7 558.8,79.8 559.6,80.7 560.4,80.8 561.2,81.0 562.0,80.9 562.8,79.6 563.6,79.6 564.4,81.0 565.2,80.7 566.0,81.4 566.8,80.3 567.6,79.7 568.4,79.6 569.2,79.6 570.0,79.9 570.8,81.1 571.6,80.6 572.4,81.3 573.2,81.3 574.0,80.5 574.8,79.8 575.6,79.9 576.4,80.7 577.2,79.8 578.0,80.5 578.8,80.5 579.6,79.5 580.4,79.6 581.2,81.4 582.0,80.4 582.8,80.4 583.6,80.3 584.4,81.0 585.2,80.7 586.0,80.8 586.8,80.6 587.6,79.7 588.4,79.9 589.2,80.0 590.0,79.5 590.8,80.7 591.6,81.1 592.4,81.3 593.2,79.5 594.0,79.8 594.8,80.6 595.6,79.4 596.4,79.8 597.2,80.2 598.0,80.9 598.8,79.5 599.6,79.5 600.4,79.8 601.2,79.8 602.0,79.7 602.8,80.5 603.6,79.7 604.4,79.4 605.2,81.1 606.0,80.2 606.8,80.2 607.6,79.8 608.4,81.1 609.2,81.3 610.0,79.4 610.8,80.7 611.6,80.7" fill="none" stroke="#0c0c0c" stroke-width="0.9"/>
<polyline points="612.0,80.4 612.8,80.2 613.6,80.2 614.4,80.6 615.2,79.6 616.0,80.8 616.8,79.7 617.6,79.8 618.4,80.1 619.2,79.6 620.0,80.9 620.8,80.2 621.6,80.1 622.4,80.1 623.2,80.8 624.0,80.1 624.8,80.5 625.6,81.0 626.4,80.2 627.2,80.9 628.0,80.4 628.8,80.1 629.6,80.3 630.4,80.1 631.2,80.2 632.0,80.0 632.8,79.6 633.6,80.7 634.4,79.9 635.2,79.8 636.0,79.9" fill="none" stroke="#0c0c0c" stroke-width="0.9"/>
<polyline points="722.0,80.6 722.8,81.1 723.6,80.6 724.4,80.4 725.2,81.1 726.0,80.0 726.8,80.2 727.6,79.9 728.4,80.3 729.2,80.8 730.0,80.7 730.8,80.1 731.6,80.4 732.4,79.9 733.2,81.2 734.0,80.9 734.8,81.4 735.6,81.5 736.4,80.7 737.2,80.4 738.0,81.5 738.8,80.6 739.6,80.3 740.4,80.5 741.2,79.7 742.0,81.0 742.8,80.9 743.6,79.7 744.4,81.2 745.2,81.0 746.0,81.1 746.8,79.5 747.6,81.0 748.4,79.8 749.2,79.5 750.0,80.9 750.8,80.9 751.6,81.1 752.4,79.9 753.2,79.9 754.0,81.3 754.8,79.6 755.6,81.4 756.4,81.1 757.2,81.0 758.0,79.9 758.8,81.0 759.6,79.6 760.4,80.1 761.2,81.2 762.0,80.3 762.8,80.2" fill="none" stroke="#0c0c0c" stroke-width="0.9"/>
<polygon points="42.5,65.7 60,52 60,79.6" fill="url(#arr)"/>
<polygon points="789.2,65.7 771.6,52 771.6,79.6" fill="url(#arr)"/>
<rect x="527" y="45" width="6.2" height="53.8" fill="none" stroke="#111" stroke-width="1.7"/>
<rect x="68" y="127.9" width="747" height="1" fill="#b4b4b8"/>
<rect x="68.1" y="126.1" width="0.9" height="2.1" fill="#a6a6c0"/>
<rect x="88.8" y="126.1" width="0.9" height="2.1" fill="#a6a6c0"/>
<rect x="109.5" y="126.1" width="0.9" height="2.1" fill="#a6a6c0"/>
<rect x="130.2" y="126.1" width="0.9" height="2.1" fill="#a6a6c0"/>
<rect x="150.9" y="126.1" width="0.9" height="2.1" fill="#a6a6c0"/>
<rect x="171.6" y="126.1" width="0.9" height="2.1" fill="#a6a6c0"/>
<rect x="192.2" y="126.1" width="0.9" height="2.1" fill="#a6a6c0"/>
<rect x="212.9" y="126.1" width="0.9" height="2.1" fill="#a6a6c0"/>
<rect x="233.6" y="126.1" width="0.9" height="2.1" fill="#a6a6c0"/>
<rect x="254.3" y="126.1" width="0.9" height="2.1" fill="#a6a6c0"/>
<rect x="275.0" y="126.1" width="0.9" height="2.1" fill="#a6a6c0"/>
<rect x="295.7" y="126.1" width="0.9" height="2.1" fill="#a6a6c0"/>
<rect x="316.3" y="126.1" width="0.9" height="2.1" fill="#a6a6c0"/>
<rect x="337.0" y="126.1" width="0.9" height="2.1" fill="#a6a6c0"/>
<rect x="357.7" y="126.1" width="0.9" height="2.1" fill="#a6a6c0"/>
<rect x="378.4" y="126.1" width="0.9" height="2.1" fill="#a6a6c0"/>
<rect x="399.1" y="126.1" width="0.9" height="2.1" fill="#a6a6c0"/>
<rect x="419.8" y="126.1" width="0.9" height="2.1" fill="#a6a6c0"/>
<rect x="440.4" y="126.1" width="0.9" height="2.1" fill="#a6a6c0"/>
<rect x="461.1" y="126.1" width="0.9" height="2.1" fill="#a6a6c0"/>
<rect x="481.8" y="126.1" width="0.9" height="2.1" fill="#a6a6c0"/>
<rect x="502.5" y="126.1" width="0.9" height="2.1" fill="#a6a6c0"/>
<rect x="523.2" y="126.1" width="0.9" height="2.1" fill="#a6a6c0"/>
<rect x="543.9" y="126.1" width="0.9" height="2.1" fill="#a6a6c0"/>
<rect x="564.5" y="126.1" width="0.9" height="2.1" fill="#a6a6c0"/>
<rect x="585.2" y="126.1" width="0.9" height="2.1" fill="#a6a6c0"/>
<rect x="605.9" y="126.1" width="0.9" height="2.1" fill="#a6a6c0"/>
<rect x="626.6" y="126.1" width="0.9" height="2.1" fill="#a6a6c0"/>
<rect x="647.3" y="126.1" width="0.9" height="2.1" fill="#a6a6c0"/>
<rect x="668.0" y="126.1" width="0.9" height="2.1" fill="#a6a6c0"/>
<rect x="688.6" y="126.1" width="0.9" height="2.1" fill="#a6a6c0"/>
<rect x="709.3" y="126.1" width="0.9" height="2.1" fill="#a6a6c0"/>
<rect x="730.0" y="126.1" width="0.9" height="2.1" fill="#a6a6c0"/>
<rect x="750.7" y="126.1" width="0.9" height="2.1" fill="#a6a6c0"/>
<rect x="771.4" y="126.1" width="0.9" height="2.1" fill="#a6a6c0"/>
<rect x="792.1" y="126.1" width="0.9" height="2.1" fill="#a6a6c0"/>
<rect x="812.7" y="126.1" width="0.9" height="2.1" fill="#a6a6c0"/>
<rect x="68.1" y="128.4" width="101.0" height="190.2" fill="#f4bbbb"/>
<rect x="68.1" y="128.4" width="1.2" height="190.2" fill="#efa3a3" opacity="0.8"/>
<rect x="68.1" y="127.9" width="101.0" height="1.1" fill="#e4929a"/>
<rect x="254.4" y="128.4" width="140.5" height="190.2" fill="#f4bbbb"/>
<rect x="254.4" y="128.4" width="1.2" height="190.2" fill="#efa3a3" opacity="0.8"/>
<rect x="254.4" y="127.9" width="140.5" height="1.1" fill="#e4929a"/>
<rect x="478.7" y="128.4" width="144.2" height="190.2" fill="#f4bbbb"/>
<rect x="478.7" y="128.4" width="1.2" height="190.2" fill="#efa3a3" opacity="0.8"/>
<rect x="478.7" y="127.9" width="144.2" height="1.1" fill="#e4929a"/>
<rect x="705.0" y="128.4" width="107.8" height="190.2" fill="#f4bbbb"/>
<rect x="705.0" y="128.4" width="1.2" height="190.2" fill="#efa3a3" opacity="0.8"/>
<rect x="705.0" y="127.9" width="107.8" height="1.1" fill="#e4929a"/>
<line x1="234.0" y1="129.5" x2="234.0" y2="318.5" stroke="#bdbdbd" stroke-width="0.8" stroke-dasharray="1.2,2.2" opacity="0.8"/>
<line x1="234.0" y1="359" x2="234.0" y2="523" stroke="#bdbdbd" stroke-width="0.8" stroke-dasharray="1.2,2.2" opacity="0.8"/>
<line x1="482.2" y1="129.5" x2="482.2" y2="318.5" stroke="#bdbdbd" stroke-width="0.8" stroke-dasharray="1.2,2.2" opacity="0.8"/>
<line x1="482.2" y1="359" x2="482.2" y2="523" stroke="#bdbdbd" stroke-width="0.8" stroke-dasharray="1.2,2.2" opacity="0.8"/>
<line x1="730.4" y1="129.5" x2="730.4" y2="318.5" stroke="#bdbdbd" stroke-width="0.8" stroke-dasharray="1.2,2.2" opacity="0.8"/>
<line x1="730.4" y1="359" x2="730.4" y2="523" stroke="#bdbdbd" stroke-width="0.8" stroke-dasharray="1.2,2.2" opacity="0.8"/>
<line x1="68" y1="187.4" x2="815" y2="187.4" stroke="#c9c9c9" stroke-width="0.7" stroke-dasharray="1.5,1.8" opacity="0.8"/>
<line x1="68" y1="278.1" x2="815" y2="278.1" stroke="#c9c9c9" stroke-width="0.7" stroke-dasharray="1.5,1.8" opacity="0.8"/>
<g style="mix-blend-mode:multiply">
<polyline points="68.2,187.8 70.5,187.5 72.8,187.6 75.1,187.6 77.4,187.8 79.7,187.9 82.0,187.2 84.3,187.4 86.6,187.8 88.9,187.7 91.2,187.9 93.5,187.1 95.8,187.7 98.1,187.5 100.4,187.9 102.7,187.4 105.0,187.9 107.3,187.1 109.6,187.3 111.9,187.3 114.2,187.6 116.5,187.2 118.8,187.7 121.1,187.4 123.4,187.6 125.7,187.4 128.0,187.7 130.3,187.2 132.6,187.7 134.9,187.5 137.2,187.6 139.5,187.9 141.8,187.6 144.1,187.3 146.4,187.5 148.7,187.5 151.0,187.9 153.3,187.7 155.6,187.6 157.9,187.9 160.2,187.2 162.5,187.7 164.8,187.6 167.1,187.9 168.0,187.4 168.8,172.5 169.6,178.2 171.1,174.4 173.0,161.0 174.3,157.2 175.7,149.2 176.8,154.3 178.2,166.8 179.5,189.7 180.7,216.5 181.0,229.9 182.6,224.1 183.7,220.3 184.9,223.2 186.4,222.2 187.7,226.0 188.7,216.5 189.6,187.8 190.2,164.9 191.5,161.0 192.9,153.8 194.4,161.0 195.4,174.4 195.9,195.4 196.7,185.9 198.2,185.5 200.2,186.8 202.1,185.9 202.4,197.4 203.2,216.5 204.9,228.9 206.3,222.2 207.4,205.0 208.2,206.9 209.3,187.8 210.1,168.7 211.6,165.8 213.9,167.7 214.7,178.2 215.4,197.4 216.4,212.7 217.4,219.3 218.9,208.8 219.7,206.0 220.8,206.9 222.1,197.4 223.5,174.4 225.0,171.5 226.9,170.6 228.5,174.4 229.2,189.7 230.0,206.9 230.7,211.1 232.7,203.1 234.6,197.4 236.5,194.5 238.4,191.6 240.3,188.8 242.6,183.0 244.5,176.3 246.4,172.5 248.0,177.3 248.9,197.4 249.9,201.6 251.4,201.2 252.7,196.4 254.1,192.6 255.6,190.7 258.5,189.3 263.3,188.2 267.1,187.8 269.1,188.2 271.4,188.0 273.7,188.1 276.0,188.3 278.3,188.1 280.6,187.5 282.9,187.7 285.2,188.1 287.5,187.8 289.8,188.3 292.1,187.8 294.4,188.1 296.7,188.3 299.0,188.0 301.3,187.6 303.6,187.9 305.9,187.8 308.2,188.3 310.5,187.8 312.8,187.8 315.1,187.9 317.4,188.1 319.7,188.2 322.0,188.0 324.3,187.9 326.6,188.1 328.9,187.6 331.2,188.1 333.5,188.2 335.8,188.2 338.1,187.9 340.4,187.6 342.7,188.3 345.0,188.2 347.3,188.0 349.6,187.6 351.9,187.6 354.2,188.2 356.5,187.7 358.8,187.7 361.1,188.3 363.4,187.6 365.7,187.8 368.0,187.5 370.3,188.0 372.6,187.6 374.9,188.1 377.2,187.9 379.5,187.9 381.8,188.1 384.1,187.5 386.4,188.1 388.7,187.6 391.0,188.0 393.3,188.1 393.6,187.2 394.9,184.9 395.5,176.3 396.9,175.4 398.4,172.5 399.3,159.1 399.9,154.3 400.7,170.6 401.3,197.4 401.8,220.3 402.6,229.9 403.7,224.1 405.1,223.2 406.0,216.5 407.0,197.4 407.9,168.7 408.9,158.2 410.2,155.3 411.8,159.1 413.3,163.9 414.1,178.2 415.2,203.1 416.5,220.3 417.5,221.8 419.0,216.5 420.4,215.5 420.9,203.1 421.7,187.8 423.2,183.0 424.2,187.8 424.8,203.1 425.5,214.6 426.7,197.4 427.4,178.2 428.6,165.8 429.9,162.9 431.5,160.1 432.8,164.9 433.8,174.4 434.7,187.8 435.7,195.4 436.2,208.8 437.6,218.4 439.5,212.7 441.4,206.9 442.4,204.1 442.9,187.8 443.9,174.4 445.2,168.7 446.6,165.8 448.5,170.6 449.6,182.1 450.4,197.4 451.2,212.7 452.3,216.9 454.2,210.7 455.7,201.2 457.3,193.5 458.6,184.0 460.5,177.3 462.4,175.4 464.3,177.3 465.7,184.0 466.8,195.4 468.2,201.6 470.1,198.3 472.0,193.5 473.3,188.8 475.2,186.8 476.8,187.8 478.8,187.2 481.1,187.7 483.4,187.6 485.7,187.3 488.0,187.6 490.3,187.2 492.6,187.4 494.9,187.9 497.2,187.7 499.5,187.2 501.8,187.9 504.1,187.8 506.4,187.4 508.7,187.2 511.0,187.7 513.3,187.1 515.6,187.5 517.9,187.1 520.2,187.9 522.5,187.3 524.8,187.1 527.1,187.3 529.4,187.9 531.7,187.2 534.0,187.5 536.3,187.6 538.6,187.3 540.9,187.6 543.2,187.1 545.5,187.5 547.8,187.9 550.1,187.5 552.4,187.7 554.7,187.3 557.0,187.7 559.3,187.3 561.6,187.6 563.9,187.9 566.2,187.5 568.5,187.8 570.8,187.3 573.1,187.4 575.4,187.1 577.7,187.3 580.0,187.6 582.3,187.7 584.6,187.7 586.9,187.6 589.2,187.1 591.5,187.7 593.8,187.1 596.1,187.4 598.4,187.2 600.7,187.4 603.0,187.9 605.3,187.5 607.6,187.9 609.9,187.7 612.2,187.1 614.5,187.7 616.8,187.3 618.7,187.4 619.6,188.8 620.6,184.0 622.5,184.9 623.9,182.1 624.6,165.8 626.3,168.7 627.3,187.8 628.3,189.7 629.2,203.1 630.2,220.3 631.1,229.5 632.1,220.3 632.7,211.7 633.4,214.6 634.6,193.5 635.3,170.6 636.5,168.7 637.2,162.9 638.4,156.8 639.7,164.9 640.7,170.6 641.1,164.9 642.2,178.2 643.0,197.4 644.1,214.6 645.5,218.4 646.8,219.9 647.9,212.7 649.3,197.4 650.2,178.2 651.2,168.7 652.5,162.9 654.4,166.8 656.4,168.7 657.1,187.8 657.9,206.9 658.8,217.4 660.2,215.5 661.7,214.6 663.2,206.9 664.0,205.0 665.2,187.8 666.3,172.5 667.4,167.2 669.4,168.7 671.3,170.6 672.0,187.8 672.8,212.7 673.8,219.9 675.5,212.7 677.0,205.0 678.9,195.4 680.8,186.8 682.7,184.9 684.3,185.9 685.6,172.5 687.0,161.0 688.1,163.9 689.4,168.7 690.4,197.4 691.3,212.7 692.3,214.6 693.8,208.8 695.4,201.2 697.1,195.4 699.0,193.5 700.9,186.8 702.8,187.8 704.8,187.9 707.1,187.7 709.4,187.9 711.7,187.7 714.0,187.6 716.3,187.5 718.6,188.2 720.9,188.1 723.2,187.6 725.5,187.4 727.8,187.4 730.1,188.1 732.4,188.2 734.7,188.2 737.0,187.7 739.3,187.4 741.6,187.5 743.9,187.7 746.2,188.0 748.5,188.2 750.8,187.9 753.1,187.9 755.4,187.5 757.7,187.6 760.0,187.5 762.3,187.9 764.6,187.7 766.9,188.2 769.2,188.1 771.5,187.8 773.8,187.5 776.1,187.7 778.4,187.4 780.7,187.9 783.0,188.1 785.3,187.8 787.6,187.5 789.9,187.4 792.2,187.4 794.5,188.0 796.8,188.2 799.1,187.4 801.4,187.4 803.7,188.2 806.0,187.5 808.3,188.0 810.6,187.7 812.9,187.4" fill="none" stroke="#161616" stroke-width="0.95" stroke-linejoin="round"/>
<polyline points="68.2,187.8 69.3,187.7 70.4,187.6 71.5,187.5 72.6,187.5 73.7,187.5 74.8,187.4 75.9,187.5 77.0,187.6 78.1,187.1 79.2,187.4 80.3,187.6 81.4,187.0 82.5,187.8 83.6,187.7 84.7,187.3 85.8,187.7 86.9,187.6 88.0,187.4 89.1,187.4 90.2,187.7 91.3,187.1 92.4,187.9 93.5,187.5 94.6,187.6 95.7,187.9 96.8,187.2 97.9,187.8 99.0,187.7 100.1,187.1 101.2,187.6 102.3,187.6 103.4,188.0 104.5,187.3 105.6,187.2 106.7,187.4 107.8,187.2 108.9,187.2 110.0,188.0 111.1,187.2 112.2,187.8 113.3,187.2 114.4,187.9 115.5,187.7 116.6,187.2 117.7,187.7 118.8,187.7 119.9,187.2 121.0,187.5 122.1,187.5 123.2,187.7 124.3,187.8 125.4,188.0 126.5,187.6 127.6,187.9 128.7,187.7 129.8,187.8 130.9,187.1 132.0,187.5 133.1,187.5 134.2,187.9 135.3,188.0 136.4,187.6 137.5,188.0 138.6,187.5 139.7,187.5 140.8,187.7 141.9,187.5 143.0,188.0 144.1,187.2 145.2,187.5 146.3,187.1 147.4,187.4 148.5,187.6 149.6,187.4 150.7,187.0 151.8,187.0 152.9,187.7 154.0,188.0 155.1,187.5 156.2,187.1 157.3,187.1 158.4,187.9 159.5,187.0 160.6,188.0 161.7,187.2 162.8,187.1 163.9,187.8 165.0,187.3 166.1,187.4 167.2,187.9" fill="none" stroke="#2a1a1a" stroke-width="0.8" stroke-linejoin="round"/>
<polyline points="269.1,188.2 270.2,188.2 271.3,187.4 272.4,187.6 273.5,187.6 274.6,187.9 275.7,187.9 276.8,187.7 277.9,187.9 279.0,188.2 280.1,187.7 281.2,187.7 282.3,187.7 283.4,188.0 284.5,187.4 285.6,188.4 286.7,187.6 287.8,187.7 288.9,188.1 290.0,187.4 291.1,188.4 292.2,187.8 293.3,188.2 294.4,187.9 295.5,187.4 296.6,187.6 297.7,187.5 298.8,188.4 299.9,188.3 301.0,188.1 302.1,188.3 303.2,188.0 304.3,187.6 305.4,188.4 306.5,188.2 307.6,187.6 308.7,187.8 309.8,187.4 310.9,188.4 312.0,187.9 313.1,187.9 314.2,187.4 315.3,188.3 316.4,187.4 317.5,188.0 318.6,188.1 319.7,188.0 320.8,188.3 321.9,188.4 323.0,188.1 324.1,187.8 325.2,187.6 326.3,188.4 327.4,187.9 328.5,187.7 329.6,187.9 330.7,187.7 331.8,187.5 332.9,188.0 334.0,187.6 335.1,188.3 336.2,188.1 337.3,187.7 338.4,187.9 339.5,188.4 340.6,187.7 341.7,187.7 342.8,187.9 343.9,187.6 345.0,187.6 346.1,188.3 347.2,188.0 348.3,188.0 349.4,188.1 350.5,187.5 351.6,187.8 352.7,187.4 353.8,188.4 354.9,187.7 356.0,188.0 357.1,188.0 358.2,187.5 359.3,188.1 360.4,188.4 361.5,188.3 362.6,187.5 363.7,187.6 364.8,187.8 365.9,188.0 367.0,187.5 368.1,188.2 369.2,188.2 370.3,187.6 371.4,188.2 372.5,187.5 373.6,187.4 374.7,188.4 375.8,187.7 376.9,187.7 378.0,188.3 379.1,187.6 380.2,188.3 381.3,188.1 382.4,187.7 383.5,188.1 384.6,188.1 385.7,188.3 386.8,188.2 387.9,187.9 389.0,188.3 390.1,188.2 391.2,188.4 392.3,187.5 393.4,187.6" fill="none" stroke="#2a1a1a" stroke-width="0.8" stroke-linejoin="round"/>
<polyline points="478.8,187.9 479.9,187.7 481.0,187.4 482.1,187.4 483.2,187.8 484.3,188.0 485.4,187.6 486.5,187.1 487.6,187.7 488.7,187.2 489.8,187.6 490.9,187.7 492.0,188.0 493.1,187.0 494.2,187.2 495.3,188.0 496.4,187.6 497.5,187.3 498.6,187.3 499.7,187.5 500.8,188.0 501.9,187.7 503.0,187.7 504.1,188.0 505.2,187.9 506.3,187.3 507.4,187.1 508.5,187.9 509.6,187.6 510.7,187.8 511.8,187.6 512.9,187.2 514.0,187.0 515.1,187.0 516.2,187.4 517.3,187.9 518.4,187.3 519.5,187.5 520.6,187.1 521.7,187.2 522.8,187.0 523.9,187.1 525.0,187.0 526.1,187.0 527.2,187.8 528.3,187.6 529.4,187.7 530.5,187.0 531.6,187.2 532.7,187.7 533.8,187.0 534.9,187.3 536.0,187.0 537.1,187.3 538.2,187.9 539.3,187.0 540.4,187.5 541.5,187.6 542.6,187.8 543.7,187.1 544.8,187.9 545.9,187.8 547.0,187.0 548.1,187.6 549.2,187.8 550.3,188.0 551.4,187.4 552.5,188.0 553.6,187.9 554.7,187.0 555.8,187.3 556.9,187.7 558.0,187.3 559.1,187.4 560.2,187.7 561.3,187.9 562.4,187.1 563.5,187.0 564.6,187.2 565.7,187.5 566.8,187.9 567.9,187.3 569.0,187.3 570.1,187.3 571.2,187.7 572.3,187.9 573.4,187.1 574.5,188.0 575.6,187.6 576.7,187.2 577.8,187.6 578.9,187.8 580.0,187.5 581.1,187.0 582.2,187.7 583.3,187.7 584.4,187.6 585.5,187.7 586.6,187.6 587.7,187.3 588.8,187.5 589.9,187.3 591.0,187.2 592.1,187.6 593.2,187.1 594.3,187.8 595.4,188.0 596.5,187.1 597.6,187.6 598.7,187.4 599.8,188.0 600.9,188.0 602.0,187.6 603.1,187.1 604.2,187.5 605.3,187.2 606.4,187.8 607.5,187.2 608.6,187.6 609.7,187.8 610.8,187.9 611.9,187.9 613.0,187.9 614.1,187.8 615.2,187.5 616.3,187.3 617.4,187.7 618.5,187.4" fill="none" stroke="#2a1a1a" stroke-width="0.8" stroke-linejoin="round"/>
<polyline points="704.8,188.2 705.9,187.5 707.0,188.3 708.1,188.2 709.2,187.7 710.3,187.5 711.4,188.1 712.5,187.3 713.6,188.0 714.7,187.3 715.8,188.1 716.9,188.3 718.0,188.0 719.1,187.6 720.2,187.5 721.3,187.7 722.4,188.2 723.5,187.7 724.6,188.0 725.7,188.2 726.8,187.3 727.9,187.3 729.0,188.0 730.1,187.5 731.2,187.6 732.3,187.6 733.4,187.7 734.5,187.6 735.6,188.2 736.7,187.8 737.8,188.3 738.9,188.1 740.0,187.8 741.1,188.3 742.2,188.1 743.3,188.3 744.4,187.4 745.5,187.6 746.6,187.3 747.7,187.3 748.8,188.2 749.9,187.5 751.0,187.6 752.1,187.9 753.2,188.3 754.3,187.5 755.4,187.3 756.5,188.1 757.6,188.2 758.7,188.1 759.8,187.3 760.9,188.1 762.0,187.7 763.1,187.7 764.2,187.4 765.3,188.3 766.4,188.0 767.5,188.1 768.6,187.4 769.7,188.3 770.8,187.4 771.9,187.6 773.0,187.8 774.1,187.6 775.2,188.1 776.3,187.8 777.4,187.7 778.5,187.7 779.6,188.0 780.7,188.0 781.8,187.7 782.9,187.6 784.0,188.2 785.1,187.9 786.2,187.5 787.3,187.9 788.4,187.3 789.5,187.4 790.6,187.9 791.7,187.9 792.8,188.0 793.9,188.1 795.0,187.3 796.1,188.2 797.2,187.3 798.3,187.4 799.4,188.3 800.5,188.3 801.6,187.8 802.7,187.3 803.8,187.5 804.9,187.8 806.0,187.9 807.1,187.9 808.2,188.3 809.3,187.8 810.4,188.2 811.5,188.3 812.6,187.3" fill="none" stroke="#2a1a1a" stroke-width="0.8" stroke-linejoin="round"/>
<g clip-path="url(#eff)"><path d="M68.1 286.6 C68.5 286.5 69.2 286.6 70.2 285.8 C71.1 284.9 71.5 283.7 72.7 282.3 C74.0 281.0 75.2 281.0 76.2 278.9 C77.2 276.8 77.1 274.0 77.9 272.0 C78.7 270.0 79.3 269.3 80.1 269.1 C81.0 268.9 81.5 269.9 82.2 271.1 C83.0 272.4 83.2 274.2 83.9 275.4 C84.7 276.7 85.3 275.8 86.0 277.2 C86.7 278.5 86.8 280.2 87.4 282.3 C88.0 284.5 88.2 287.2 89.1 288.0 C90.0 288.9 90.6 287.4 91.7 286.6 C92.7 285.8 93.4 286.1 94.3 284.1 C95.1 282.0 95.3 279.2 96.0 276.3 C96.7 273.4 97.1 271.1 97.7 269.4 C98.3 267.7 98.5 267.4 99.1 267.7 C99.7 268.0 100.0 269.3 100.8 271.1 C101.6 273.0 102.4 275.3 103.2 277.2 C104.0 279.1 104.3 278.7 104.9 280.6 C105.6 282.5 105.8 285.1 106.3 286.6 C106.9 288.2 106.9 288.5 107.7 288.4 C108.4 288.2 109.1 287.3 110.1 285.8 C111.1 284.2 111.9 282.2 112.8 280.6 C113.8 279.1 114.2 280.3 114.9 278.0 C115.6 275.8 115.7 271.8 116.3 269.4 C116.9 267.1 117.3 266.3 118.0 266.3 C118.8 266.3 119.1 267.4 120.1 269.4 C121.0 271.4 121.8 274.1 122.7 276.3 C123.5 278.5 123.8 279.9 124.4 280.6 C125.0 281.3 125.1 278.5 125.6 279.8 C126.0 281.0 126.2 284.6 126.6 286.6 C127.1 288.7 127.1 290.2 127.8 290.1 C128.6 289.9 129.4 287.7 130.4 285.8 C131.4 283.9 132.0 282.2 133.0 280.6 C134.0 279.1 134.4 280.6 135.2 278.0 C136.0 275.4 136.3 270.4 136.9 267.7 C137.6 265.0 137.8 264.3 138.5 264.6 C139.2 264.9 139.5 267.1 140.4 269.4 C141.2 271.8 141.9 273.7 142.8 276.3 C143.7 278.9 144.3 281.0 145.0 282.3 C145.7 283.7 145.9 284.4 146.2 283.2 C146.6 282.0 146.7 276.3 146.9 276.3 C147.2 276.3 147.2 280.2 147.6 283.2 C148.0 286.2 148.3 290.6 149.0 291.5 C149.7 292.3 150.1 289.1 151.1 287.5 C152.0 285.8 152.6 284.9 153.6 283.2 C154.7 281.5 155.3 279.9 156.2 278.9 C157.2 277.9 157.6 280.6 158.3 278.0 C159.0 275.4 159.0 269.6 159.7 266.0 C160.4 262.4 161.0 260.5 161.7 260.0 C162.5 259.4 162.8 261.0 163.4 263.4 C164.1 265.8 164.4 269.6 165.2 272.0 C165.9 274.4 166.5 276.0 167.2 275.4 C167.9 274.9 168.1 272.3 168.6 269.4 C169.2 266.5 169.5 262.9 170.0 260.8 C170.5 258.8 170.8 258.1 171.2 259.1 C171.6 260.1 171.7 263.2 172.0 266.0 C172.4 268.7 172.5 272.2 172.9 272.9 C173.3 273.6 173.6 272.2 174.1 269.4 C174.6 266.7 174.9 261.9 175.5 259.1 C176.0 256.3 176.4 255.3 176.9 255.7 C177.4 256.0 177.6 256.3 178.1 260.8 C178.6 265.3 178.8 270.8 179.3 278.0 C179.8 285.3 180.0 289.0 180.7 297.0 C181.3 304.9 180.8 313.5 182.4 317.6 C183.9 321.7 187.0 320.4 188.4 317.6 C189.8 314.9 189.1 311.8 189.6 303.8 C190.1 295.9 190.5 287.7 191.0 278.0 C191.4 268.4 191.6 262.5 191.8 255.7 C192.1 248.8 191.3 246.3 192.4 244.0 C193.4 241.6 195.9 242.6 197.0 244.0 C198.1 245.3 197.5 247.8 197.9 250.5 C198.2 253.2 198.4 255.0 198.7 257.4 C199.1 259.8 199.2 258.8 199.6 262.5 C199.9 266.3 200.1 272.2 200.4 276.3 C200.8 280.4 200.9 281.5 201.3 283.2 C201.7 284.9 202.0 283.5 202.3 284.9 C202.7 286.3 202.7 286.3 203.0 290.1 C203.3 293.9 203.5 298.3 203.9 303.8 C204.2 309.4 204.2 314.9 204.8 317.6 C205.3 320.4 206.3 320.4 206.8 317.6 C207.3 314.9 207.1 308.0 207.3 303.8 C207.6 299.7 207.7 299.0 208.2 297.0 C208.6 294.9 209.1 297.0 209.6 293.5 C210.1 290.1 210.2 285.3 210.8 279.8 C211.4 274.2 211.8 270.6 212.5 266.0 C213.2 261.3 213.6 257.5 214.2 256.5 C214.8 255.5 214.9 257.9 215.4 260.8 C215.9 263.7 216.2 267.9 216.8 271.1 C217.4 274.4 217.8 275.6 218.5 277.2 C219.2 278.7 219.4 278.9 220.2 278.9 C221.1 278.9 222.0 278.0 222.8 277.2 C223.7 276.3 223.9 276.8 224.5 274.6 C225.2 272.3 225.6 269.1 226.3 266.0 C227.0 262.9 227.4 260.8 228.0 259.1 C228.6 257.4 228.7 256.3 229.2 257.4 C229.6 258.4 229.8 261.2 230.2 264.3 C230.7 267.4 230.8 269.6 231.4 272.9 C232.0 276.1 232.5 278.7 233.1 280.6 C233.8 282.5 234.0 282.2 234.9 282.3 C235.7 282.5 236.4 282.5 237.5 281.5 C238.5 280.4 239.0 279.1 240.0 277.2 C241.1 275.3 241.6 273.4 242.6 272.0 C243.6 270.6 244.2 270.6 245.2 270.3 C246.2 270.0 247.1 269.4 247.8 270.6 C248.5 271.8 248.2 273.8 248.6 276.3 C249.1 278.8 249.2 281.1 249.8 283.2 C250.5 285.3 251.3 285.8 252.1 286.6 C252.9 287.5 252.9 287.9 253.8 287.5 C254.7 287.1 255.4 286.0 256.4 284.7 C257.5 283.4 258.3 282.7 259.2 281.0 C260.1 279.4 260.3 278.1 261.0 276.4 C261.8 274.8 262.1 273.5 262.9 272.7 C263.7 272.0 264.4 272.0 265.1 272.7 C265.8 273.5 266.0 274.8 266.6 276.4 C267.2 278.1 267.3 279.8 268.0 281.0 C268.8 282.2 269.3 282.7 270.2 282.5 C271.2 282.3 271.5 280.9 273.0 280.1 C274.5 279.2 276.1 279.4 277.6 278.3 C279.1 277.1 279.3 275.7 280.4 274.6 C281.5 273.5 282.1 272.7 283.1 272.7 C284.1 272.7 284.4 272.9 285.3 274.6 C286.3 276.2 286.9 279.1 287.7 281.0 C288.6 283.0 288.5 284.0 289.6 284.3 C290.7 284.6 291.8 283.4 293.3 282.5 C294.7 281.5 295.5 280.6 296.9 279.5 C298.4 278.5 299.1 278.5 300.6 277.3 C302.1 276.2 303.2 273.8 304.3 273.7 C305.4 273.5 305.2 275.0 306.1 276.4 C307.1 277.8 307.9 279.4 308.9 280.6 C309.9 281.9 310.2 282.6 311.1 282.5 C312.0 282.4 312.5 280.8 313.5 280.1 C314.5 279.4 315.3 280.1 316.3 279.2 C317.2 278.3 317.2 276.6 318.1 275.5 C319.0 274.4 319.8 273.6 320.9 273.7 C321.9 273.7 322.4 274.2 323.3 275.9 C324.1 277.5 324.4 280.0 325.1 281.9 C325.8 283.9 325.9 285.4 326.9 285.6 C327.9 285.8 329.1 283.8 330.1 282.9 C331.1 281.9 331.2 282.7 331.9 281.0 C332.6 279.4 332.9 276.2 333.7 274.6 C334.6 272.9 335.1 272.7 336.1 272.7 C337.1 272.7 337.7 272.9 338.7 274.6 C339.7 276.2 340.1 278.4 341.1 281.0 C342.1 283.6 342.8 286.9 343.9 287.5 C345.0 288.0 345.5 285.2 346.6 283.8 C347.7 282.3 348.3 282.3 349.4 280.1 C350.5 277.9 351.0 275.1 352.2 272.7 C353.3 270.4 353.8 268.3 354.9 268.5 C356.0 268.7 356.6 271.7 357.7 273.7 C358.8 275.6 359.5 276.4 360.4 278.3 C361.4 280.1 361.5 280.6 362.3 282.9 C363.0 285.1 363.2 288.9 364.1 289.3 C365.0 289.7 365.8 286.5 366.9 284.7 C368.0 282.9 368.5 281.4 369.6 280.1 C370.7 278.8 371.6 280.3 372.4 278.3 C373.2 276.2 373.0 272.4 373.7 270.0 C374.4 267.6 374.9 266.1 375.7 266.3 C376.6 266.5 377.1 268.7 377.9 270.9 C378.7 273.1 379.0 275.3 379.8 277.3 C380.5 279.4 381.0 281.8 381.6 281.0 C382.2 280.3 382.5 273.3 382.9 273.7 C383.3 274.0 383.1 279.7 383.4 282.9 C383.8 286.0 384.0 288.6 384.7 289.3 C385.5 290.0 386.3 287.8 387.1 286.5 C388.0 285.2 388.5 284.6 389.0 282.9 C389.4 281.2 389.0 280.4 389.3 278.0 C389.6 275.7 390.0 273.2 390.5 271.1 C391.0 269.1 391.3 267.4 391.9 267.7 C392.4 268.0 392.7 273.2 393.3 272.9 C393.8 272.5 394.0 270.1 394.5 266.0 C394.9 261.9 395.2 256.2 395.7 252.2 C396.2 248.3 396.5 247.6 397.0 246.2 C397.6 244.7 397.9 243.1 398.4 245.0 C398.9 246.9 399.2 249.0 399.6 255.7 C400.0 262.3 400.1 272.2 400.5 278.0 C400.8 283.9 401.0 283.2 401.4 284.9 C401.7 286.6 401.9 283.5 402.2 286.6 C402.6 289.7 402.7 295.2 403.1 300.4 C403.4 305.6 403.5 311.1 403.9 312.5 C404.4 313.8 404.9 309.2 405.3 307.3 C405.7 305.4 405.7 302.0 406.0 303.0 C406.3 304.0 406.6 312.3 407.0 312.5 C407.5 312.6 407.8 309.0 408.2 303.8 C408.6 298.7 408.6 293.5 409.1 286.6 C409.5 279.8 410.0 274.9 410.5 269.4 C411.0 263.9 411.2 262.0 411.7 259.1 C412.2 256.2 412.4 254.4 412.9 254.8 C413.4 255.1 413.7 259.1 414.3 260.8 C414.8 262.5 415.1 260.0 415.6 263.4 C416.2 266.8 416.4 271.7 416.8 278.0 C417.3 284.4 417.6 289.0 418.0 295.2 C418.5 301.4 418.6 304.6 419.1 309.0 C419.5 313.4 419.9 318.3 420.3 317.3 C420.7 316.2 420.8 310.0 421.1 303.8 C421.5 297.7 421.7 291.8 422.0 286.6 C422.3 281.5 422.4 279.6 422.9 278.0 C423.3 276.5 423.8 277.2 424.2 278.9 C424.7 280.6 424.7 283.5 424.9 286.6 C425.2 289.7 425.3 296.1 425.6 294.4 C425.9 292.7 426.0 283.7 426.3 278.0 C426.6 272.3 426.7 268.6 427.2 266.0 C427.7 263.4 428.3 266.2 428.9 265.1 C429.5 264.1 429.6 262.7 430.1 260.8 C430.6 258.9 431.0 257.4 431.5 255.7 C432.0 253.9 432.1 251.5 432.5 252.2 C432.9 252.9 433.2 255.7 433.5 259.1 C433.9 262.5 434.0 265.1 434.2 269.4 C434.5 273.7 434.7 281.5 434.9 280.6 C435.2 279.8 435.2 268.0 435.4 265.1 C435.7 262.2 435.9 263.4 436.3 266.0 C436.7 268.6 437.0 273.9 437.5 278.0 C438.0 282.2 438.1 284.2 438.7 286.6 C439.3 289.0 439.6 290.1 440.4 290.1 C441.2 290.1 441.9 288.7 442.7 286.6 C443.5 284.6 443.7 283.2 444.4 279.8 C445.1 276.3 445.4 272.5 446.1 269.4 C446.8 266.3 447.1 265.6 447.8 264.3 C448.5 263.0 449.0 261.9 449.5 262.9 C450.1 263.9 450.2 266.0 450.7 269.4 C451.3 272.8 451.5 276.5 452.1 279.8 C452.7 283.0 453.2 284.3 453.8 285.8 C454.5 287.2 454.7 287.3 455.6 287.0 C456.4 286.6 457.3 285.8 458.1 284.1 C459.0 282.3 459.2 280.6 459.9 278.0 C460.6 275.4 460.9 273.2 461.6 271.1 C462.3 269.1 462.6 268.6 463.3 267.7 C464.0 266.8 464.3 266.0 465.0 266.8 C465.7 267.7 466.2 269.6 466.8 272.0 C467.3 274.4 467.4 276.5 468.0 278.9 C468.5 281.3 469.0 282.8 469.7 284.1 C470.4 285.3 470.6 285.8 471.4 285.3 C472.2 284.7 472.8 283.1 473.6 281.5 C474.4 279.9 474.7 278.3 475.4 277.2 C476.0 276.1 476.4 276.0 477.1 276.0 C477.8 276.0 478.3 276.2 478.8 277.2 C479.3 278.2 479.1 280.1 479.6 281.0 C480.1 282.0 480.3 282.5 481.4 281.9 C482.5 281.4 483.7 279.7 485.1 278.3 C486.6 276.8 487.6 275.5 488.8 274.6 C490.0 273.7 490.3 273.3 491.2 273.7 C492.1 274.0 492.6 274.9 493.4 276.4 C494.2 277.9 494.5 279.4 495.2 281.0 C496.0 282.6 496.0 284.5 497.1 284.3 C498.2 284.1 499.3 281.7 500.8 280.1 C502.2 278.5 503.1 277.8 504.4 276.4 C505.8 275.0 506.6 273.1 507.8 273.1 C508.9 273.1 509.5 274.8 510.3 276.4 C511.2 278.0 511.4 279.5 512.2 281.0 C512.9 282.5 513.0 283.8 514.0 283.8 C515.1 283.8 515.9 282.0 517.3 281.0 C518.7 280.0 519.5 279.4 521.0 278.8 C522.5 278.3 523.2 278.5 524.7 278.3 C526.2 278.0 527.3 277.3 528.4 277.3 C529.5 277.3 529.5 279.0 530.2 278.3 C531.0 277.5 531.3 274.8 532.1 273.7 C532.8 272.5 533.0 272.4 533.9 272.7 C534.8 273.1 535.6 273.8 536.7 275.5 C537.7 277.1 538.2 279.0 539.1 281.0 C539.9 283.0 540.3 284.3 540.9 285.6 C541.5 286.9 541.4 287.8 542.2 287.5 C543.0 287.1 544.0 285.1 544.9 283.8 C545.9 282.5 546.0 282.9 546.8 281.0 C547.6 279.2 548.0 276.4 549.0 274.6 C550.0 272.7 550.9 271.8 551.9 271.8 C553.0 271.8 553.3 272.9 554.1 274.6 C555.0 276.2 555.4 277.9 556.4 280.1 C557.3 282.3 557.5 285.2 558.7 285.6 C560.0 286.0 561.0 283.3 562.4 281.9 C563.9 280.6 564.6 279.9 566.1 278.8 C567.6 277.7 568.7 276.9 569.8 276.4 C570.9 275.9 570.9 277.5 571.6 276.4 C572.4 275.3 572.7 272.4 573.5 270.9 C574.2 269.4 574.5 268.7 575.3 269.1 C576.2 269.4 576.8 271.1 577.7 272.7 C578.6 274.4 579.1 275.9 579.9 277.3 C580.7 278.8 581.2 279.7 581.8 280.1 C582.3 280.5 582.3 278.3 582.7 279.2 C583.0 280.1 583.2 283.2 583.6 284.7 C584.0 286.2 584.1 287.1 584.9 286.9 C585.6 286.7 586.2 285.3 587.3 283.8 C588.3 282.2 589.1 281.4 590.0 279.2 C591.0 277.0 591.1 274.6 591.9 272.7 C592.6 270.8 593.0 269.4 593.7 269.6 C594.5 269.8 594.8 272.5 595.6 273.7 C596.3 274.8 596.7 274.4 597.4 275.5 C598.1 276.6 598.7 278.6 599.2 279.2 C599.8 279.7 599.7 277.3 600.2 278.3 C600.6 279.2 601.1 282.3 601.6 283.8 C602.2 285.2 602.1 286.0 602.9 285.6 C603.7 285.2 604.7 283.6 605.7 281.9 C606.7 280.3 607.1 279.4 607.9 277.3 C608.7 275.3 609.1 273.4 609.7 271.8 C610.4 270.2 610.5 269.2 611.2 269.4 C611.9 269.6 612.5 271.7 613.0 272.7 C613.5 273.8 613.2 273.0 613.7 274.6 C614.3 276.2 614.9 279.0 615.8 280.6 C616.6 282.3 617.3 283.4 618.0 282.8 C618.7 282.3 618.8 280.2 619.2 278.0 C619.7 275.9 619.9 272.2 620.3 272.0 C620.6 271.8 620.5 276.7 621.0 277.2 C621.4 277.7 621.8 277.3 622.3 274.6 C622.8 271.8 622.8 267.0 623.4 263.4 C623.9 259.8 624.3 258.6 624.9 256.5 C625.5 254.4 625.8 252.6 626.3 253.1 C626.8 253.6 627.1 255.1 627.5 259.1 C627.9 263.1 628.0 267.7 628.4 272.9 C628.7 278.0 628.8 279.8 629.2 284.9 C629.6 290.1 629.8 297.1 630.2 298.7 C630.7 300.2 630.9 294.2 631.3 292.7 C631.7 291.1 632.0 288.7 632.3 290.9 C632.7 293.2 632.7 298.6 633.0 303.8 C633.3 309.1 633.2 314.6 633.7 317.3 C634.1 320.0 634.8 321.7 635.2 317.3 C635.7 312.9 635.7 302.7 636.1 295.2 C636.5 287.7 636.7 283.7 637.1 279.8 C637.5 275.8 637.7 277.2 638.2 275.4 C638.6 273.7 639.1 274.8 639.5 271.1 C640.0 267.5 640.2 260.5 640.6 257.4 C641.0 254.3 641.3 257.5 641.6 255.7 C641.9 253.8 642.0 246.9 642.3 247.9 C642.6 248.9 642.7 254.4 643.0 260.8 C643.3 267.2 643.5 273.2 643.8 279.8 C644.2 286.3 644.3 289.4 644.7 293.5 C645.1 297.7 645.3 300.4 645.7 300.4 C646.1 300.4 646.4 296.3 646.8 293.5 C647.2 290.8 647.4 286.6 647.8 286.6 C648.2 286.6 648.5 291.2 648.8 293.5 C649.2 295.9 649.2 299.0 649.5 298.3 C649.9 297.7 650.1 295.2 650.6 290.1 C651.0 285.0 651.4 278.4 651.9 272.9 C652.5 267.4 652.7 265.9 653.3 262.5 C653.9 259.2 654.4 257.4 655.0 256.0 C655.6 254.6 655.9 254.7 656.4 255.3 C656.9 255.9 657.2 256.3 657.6 259.1 C658.0 261.9 658.1 265.3 658.5 269.4 C658.9 273.6 659.1 276.1 659.5 279.8 C660.0 283.4 660.2 285.6 660.7 287.5 C661.3 289.4 661.5 289.1 662.3 289.2 C663.0 289.3 663.7 288.9 664.5 288.0 C665.3 287.2 665.7 287.6 666.2 284.9 C666.7 282.2 666.6 278.5 667.1 274.6 C667.5 270.6 667.9 268.0 668.5 265.1 C669.0 262.2 669.1 261.1 669.8 260.0 C670.5 258.9 671.2 258.4 671.9 259.6 C672.6 260.8 672.7 262.6 673.1 266.0 C673.5 269.3 673.6 272.7 674.0 276.3 C674.3 279.9 674.5 282.1 675.0 284.1 C675.5 286.0 675.7 286.1 676.5 286.3 C677.4 286.5 678.3 285.9 679.1 284.9 C679.9 284.0 680.0 283.7 680.5 281.5 C681.0 279.2 681.1 275.6 681.5 273.7 C682.0 271.8 682.3 272.5 682.9 272.0 C683.5 271.6 683.9 272.3 684.6 271.5 C685.3 270.6 685.7 268.6 686.4 267.7 C687.0 266.8 687.5 266.7 688.1 266.8 C688.7 267.0 689.0 266.3 689.5 268.6 C689.9 270.8 689.9 274.1 690.3 278.0 C690.7 282.0 690.9 285.3 691.5 288.4 C692.1 291.4 692.4 292.8 693.2 293.2 C694.0 293.5 694.6 291.6 695.5 290.1 C696.4 288.6 696.9 287.5 697.7 285.8 C698.6 284.1 699.1 283.5 699.8 281.5 C700.5 279.4 700.6 277.5 701.2 275.4 C701.7 273.4 701.8 272.3 702.4 271.1 C702.9 270.0 703.5 269.8 704.1 269.8 C704.6 269.8 704.4 270.2 705.2 271.1 C705.9 272.1 706.9 273.2 707.7 274.6 C708.6 276.0 708.9 276.0 709.5 278.0 C710.1 280.1 710.2 282.7 710.7 284.9 C711.2 287.2 711.3 289.0 712.0 289.2 C712.8 289.4 713.7 287.0 714.6 285.8 C715.6 284.6 716.2 285.4 716.9 283.2 C717.6 281.0 717.5 277.7 718.1 274.6 C718.7 271.5 719.1 269.4 719.8 267.7 C720.5 266.0 720.7 265.6 721.5 266.0 C722.3 266.3 722.9 267.9 723.8 269.4 C724.6 271.0 725.1 272.0 725.8 273.7 C726.6 275.4 726.9 275.4 727.5 278.0 C728.2 280.6 728.3 284.1 728.9 286.6 C729.5 289.2 729.8 290.6 730.6 290.9 C731.5 291.3 732.1 289.9 733.0 288.4 C734.0 286.8 734.3 284.8 735.3 283.2 C736.2 281.5 736.9 281.6 737.9 280.1 C738.8 278.5 739.1 277.8 739.9 275.4 C740.8 273.1 741.3 270.5 742.2 268.6 C743.1 266.6 743.5 265.5 744.4 265.6 C745.3 265.8 745.7 267.8 746.5 269.4 C747.2 271.0 747.6 270.6 748.2 273.7 C748.8 276.8 749.0 281.5 749.6 284.9 C750.2 288.4 750.4 290.6 751.3 290.9 C752.2 291.3 753.1 288.4 754.2 286.6 C755.3 284.9 755.8 283.8 756.8 282.3 C757.8 280.9 758.3 280.4 759.4 279.4 C760.4 278.4 760.9 277.8 762.0 277.2 C763.0 276.5 763.7 277.5 764.5 276.3 C765.4 275.1 765.6 272.9 766.3 271.1 C767.0 269.4 767.3 268.3 768.0 267.4 C768.7 266.4 769.0 265.7 769.7 266.3 C770.4 266.9 770.7 268.5 771.4 270.3 C772.1 272.1 772.5 272.5 773.1 275.4 C773.8 278.4 774.2 281.5 774.9 284.9 C775.6 288.4 775.7 292.1 776.6 292.7 C777.5 293.2 778.1 289.2 779.2 287.5 C780.2 285.8 780.8 285.6 781.8 284.1 C782.7 282.5 783.3 281.8 784.0 279.8 C784.7 277.7 784.6 275.8 785.2 273.7 C785.8 271.7 786.2 270.5 786.9 269.4 C787.6 268.4 787.8 268.2 788.6 268.6 C789.4 268.9 790.0 269.6 790.9 271.1 C791.7 272.7 792.2 274.2 792.9 276.3 C793.7 278.4 794.0 279.1 794.7 281.5 C795.4 283.9 795.7 286.1 796.4 288.4 C797.1 290.6 797.2 292.7 798.1 292.7 C799.0 292.7 799.7 290.6 800.7 288.4 C801.7 286.1 802.2 284.6 802.9 281.5 C803.6 278.4 803.5 275.8 804.1 272.9 C804.7 269.9 805.2 268.5 805.9 266.8 C806.5 265.2 806.9 264.3 807.6 264.6 C808.3 264.9 808.6 266.7 809.3 268.6 C810.0 270.4 810.3 272.0 811.0 273.7 C811.7 275.4 811.9 275.6 812.7 277.2 C813.5 278.7 814.5 280.6 815.0 281.5" fill="none" stroke="#161616" stroke-width="0.95" stroke-linejoin="round"/></g>
</g>
<rect x="67.9" y="360.3" width="4.4" height="89.5" rx="1.2" fill="#bbe4fd" stroke="#a9d8f8" stroke-width="0.6"/>
<rect x="97.2" y="360.3" width="206.6" height="89.5" rx="1.2" fill="#bbe4fd" stroke="#a9d8f8" stroke-width="0.6"/>
<rect x="321.0" y="360.3" width="190.3" height="89.5" rx="1.2" fill="#bbe4fd" stroke="#a9d8f8" stroke-width="0.6"/>
<rect x="548.1" y="360.3" width="198.3" height="89.5" rx="1.2" fill="#bbe4fd" stroke="#a9d8f8" stroke-width="0.6"/>
<rect x="776.0" y="360.3" width="36.9" height="89.5" rx="1.2" fill="#bbe4fd" stroke="#a9d8f8" stroke-width="0.6"/>
<line x1="68" y1="376.6" x2="815" y2="376.6" stroke="#c8c8c8" stroke-width="0.8" stroke-dasharray="1.4,2.8" opacity="0.6"/>
<line x1="68" y1="387.4" x2="815" y2="387.4" stroke="#c8c8c8" stroke-width="0.8" stroke-dasharray="1.4,2.8" opacity="0.6"/>
<line x1="68" y1="398.2" x2="815" y2="398.2" stroke="#c8c8c8" stroke-width="0.8" stroke-dasharray="1.4,2.8" opacity="0.6"/>
<line x1="68" y1="409.0" x2="815" y2="409.0" stroke="#c8c8c8" stroke-width="0.8" stroke-dasharray="1.4,2.8" opacity="0.6"/>
<line x1="68" y1="419.8" x2="815" y2="419.8" stroke="#c8c8c8" stroke-width="0.8" stroke-dasharray="1.4,2.8" opacity="0.6"/>
<line x1="68" y1="430.6" x2="815" y2="430.6" stroke="#c8c8c8" stroke-width="0.8" stroke-dasharray="1.4,2.8" opacity="0.6"/>
<line x1="68" y1="441.4" x2="815" y2="441.4" stroke="#c8c8c8" stroke-width="0.8" stroke-dasharray="1.4,2.8" opacity="0.6"/>
<path d="M68.0 384.6 C68.1 384.5 69.8 383.6 70.0 383.5 C70.2 383.4 72.3 382.5 72.5 382.4 C72.7 382.4 74.2 382.7 74.5 382.9 C74.8 383.0 77.5 385.1 78.0 385.2 C78.5 385.4 84.1 385.2 85.1 385.2 C86.1 385.2 96.8 385.2 97.5 385.2 C98.1 385.2 97.8 385.1 98.0 385.2 C98.2 385.3 101.4 387.3 102.0 387.4 C102.6 387.5 108.9 387.4 109.9 387.4 C110.9 387.4 121.3 387.4 122.3 387.4 C123.3 387.4 129.3 387.3 129.9 387.4 C130.5 387.5 133.7 389.5 133.9 389.6 C134.2 389.7 134.3 389.6 134.7 389.6 C135.1 389.6 141.7 389.5 142.3 389.6 C142.9 389.7 146.1 391.6 146.3 391.7 C146.6 391.8 146.5 391.7 147.1 391.7 C147.8 391.7 158.8 391.7 159.5 391.7 C160.3 391.7 161.0 391.5 161.5 391.7 C162.1 391.9 170.4 395.8 170.9 396.0 C171.5 396.3 171.3 396.0 171.9 396.0 C172.6 396.0 183.4 396.0 184.4 396.0 C185.4 396.0 191.4 395.9 192.0 396.0 C192.6 396.1 195.7 398.1 196.0 398.2 C196.2 398.3 196.6 398.2 196.8 398.2 C196.9 398.2 198.2 398.0 198.8 398.2 C199.3 398.4 207.7 402.3 208.2 402.5 C208.7 402.7 208.5 402.5 209.2 402.5 C209.9 402.5 220.6 402.5 221.6 402.5 C222.6 402.5 228.6 402.4 229.2 402.5 C229.8 402.6 233.0 404.6 233.2 404.7 C233.4 404.8 233.3 404.7 234.0 404.7 C234.7 404.7 245.7 404.7 246.4 404.7 C247.1 404.7 247.8 405.0 248.4 404.7 C249.0 404.4 257.3 398.5 257.8 398.2 C258.3 397.9 258.7 398.2 258.8 398.2 C259.0 398.2 260.2 398.5 260.8 398.2 C261.4 397.9 269.7 392.0 270.2 391.7 C270.8 391.4 271.1 391.7 271.2 391.7 C271.4 391.7 272.7 391.9 273.2 391.7 C273.8 391.5 282.1 387.6 282.6 387.4 C283.2 387.2 283.2 387.4 283.6 387.4 C284.1 387.4 290.7 387.5 291.2 387.4 C291.8 387.3 295.0 385.3 295.2 385.2 C295.5 385.1 295.6 385.2 296.1 385.2 C296.5 385.2 303.1 385.3 303.7 385.2 C304.2 385.1 307.4 383.2 307.7 383.1 C307.9 383.0 307.8 383.1 308.5 383.1 C309.1 383.1 320.2 383.1 320.9 383.1 C321.5 383.1 321.1 383.0 321.4 383.1 C321.6 383.2 324.8 385.1 325.4 385.2 C326.0 385.3 332.3 385.2 333.3 385.2 C334.3 385.2 344.7 385.2 345.7 385.2 C346.7 385.2 352.7 385.1 353.3 385.2 C353.9 385.3 357.1 387.3 357.3 387.4 C357.5 387.5 357.4 387.4 358.1 387.4 C358.8 387.4 369.5 387.4 370.5 387.4 C371.5 387.4 377.5 387.3 378.1 387.4 C378.7 387.5 381.9 389.5 382.1 389.6 C382.4 389.7 382.5 389.6 382.9 389.6 C383.3 389.6 389.9 389.5 390.5 389.6 C391.1 389.7 394.3 391.6 394.5 391.7 C394.8 391.8 394.9 391.7 395.3 391.7 C395.8 391.7 402.4 391.6 402.9 391.7 C403.5 391.8 406.7 393.8 406.9 393.9 C407.2 394.0 407.1 393.9 407.7 393.9 C408.4 393.9 418.9 393.9 420.1 393.9 C421.4 393.9 431.6 393.9 432.6 393.9 C433.6 393.9 439.6 393.8 440.2 393.9 C440.8 394.0 443.9 395.9 444.2 396.0 C444.4 396.1 444.8 396.0 445.0 396.0 C445.1 396.0 446.4 395.8 447.0 396.0 C447.5 396.3 455.9 400.1 456.4 400.4 C456.9 400.6 456.9 400.4 457.4 400.4 C457.8 400.4 464.4 400.5 465.0 400.4 C465.6 400.3 468.7 398.3 469.0 398.2 C469.2 398.1 469.6 398.2 469.8 398.2 C469.9 398.2 471.2 398.5 471.8 398.2 C472.4 397.9 480.7 392.0 481.2 391.7 C481.7 391.4 481.8 391.7 482.2 391.7 C482.6 391.7 489.2 391.8 489.8 391.7 C490.4 391.6 493.6 389.7 493.8 389.6 C494.1 389.5 494.2 389.6 494.6 389.6 C495.0 389.6 501.6 389.7 502.2 389.6 C502.8 389.5 506.0 387.5 506.2 387.4 C506.5 387.3 506.6 387.4 507.0 387.4 C507.4 387.4 514.0 387.5 514.6 387.4 C515.2 387.3 518.4 385.3 518.6 385.2 C518.9 385.1 518.8 385.2 519.4 385.2 C520.1 385.2 530.6 385.2 531.8 385.2 C533.1 385.2 543.2 385.2 544.2 385.2 C545.3 385.2 551.3 385.1 551.9 385.2 C552.4 385.3 555.6 387.3 555.9 387.4 C556.1 387.5 556.0 387.4 556.7 387.4 C557.3 387.4 567.8 387.4 569.1 387.4 C570.3 387.4 580.5 387.4 581.5 387.4 C582.5 387.4 588.5 387.3 589.1 387.4 C589.7 387.5 592.9 389.5 593.1 389.6 C593.3 389.7 593.5 389.6 593.9 389.6 C594.3 389.6 600.9 389.5 601.5 389.6 C602.1 389.7 605.3 391.6 605.5 391.7 C605.7 391.8 605.6 391.7 606.3 391.7 C607.0 391.7 617.7 391.7 618.7 391.7 C619.7 391.7 625.7 391.6 626.3 391.7 C626.9 391.8 630.1 393.8 630.3 393.9 C630.6 394.0 630.7 393.9 631.1 393.9 C631.5 393.9 638.1 393.8 638.7 393.9 C639.3 394.0 642.5 395.9 642.7 396.0 C643.0 396.1 642.9 396.0 643.5 396.0 C644.2 396.0 654.9 396.0 655.9 396.0 C656.9 396.0 663.0 395.9 663.6 396.0 C664.1 396.1 667.3 398.1 667.6 398.2 C667.8 398.3 667.9 398.2 668.4 398.2 C668.8 398.2 675.4 398.1 676.0 398.2 C676.5 398.3 679.7 400.3 680.0 400.4 C680.2 400.5 680.4 400.3 680.8 400.4 C681.1 400.4 686.0 401.6 686.7 401.6 C687.3 401.6 692.7 400.4 693.2 400.4 C693.6 400.3 694.6 400.6 695.2 400.4 C695.7 400.1 704.1 396.3 704.6 396.0 C705.1 395.8 705.4 396.0 705.6 396.0 C705.7 396.0 707.0 396.3 707.6 396.0 C708.2 395.8 716.5 391.9 717.0 391.7 C717.5 391.5 717.8 391.7 718.0 391.7 C718.1 391.7 719.4 391.9 720.0 391.7 C720.6 391.5 728.9 387.6 729.4 387.4 C729.9 387.2 729.7 387.4 730.4 387.4 C731.1 387.4 741.8 387.4 742.8 387.4 C743.8 387.4 749.8 387.5 750.4 387.4 C751.0 387.3 754.2 385.3 754.4 385.2 C754.7 385.1 754.6 385.2 755.2 385.2 C755.9 385.2 766.6 385.2 767.6 385.2 C768.6 385.2 774.7 385.1 775.2 385.2 C775.8 385.3 779.0 387.3 779.2 387.4 C779.5 387.5 779.4 387.4 780.0 387.4 C780.7 387.4 791.2 387.4 792.5 387.4 C793.7 387.4 803.8 387.4 804.9 387.4 C805.9 387.4 812.6 387.4 813.0 387.4" fill="none" stroke="#4e5c68" stroke-width="1.1" stroke-linejoin="round"/>
<line x1="72.7" y1="383.1" x2="72.7" y2="385.5" stroke="#70777c" stroke-width="0.9"/>
<line x1="85.1" y1="385.2" x2="85.1" y2="387.6" stroke="#70777c" stroke-width="0.9"/>
<line x1="97.5" y1="385.2" x2="97.5" y2="387.6" stroke="#70777c" stroke-width="0.9"/>
<line x1="109.9" y1="387.4" x2="109.9" y2="389.8" stroke="#70777c" stroke-width="0.9"/>
<line x1="122.3" y1="387.4" x2="122.3" y2="389.8" stroke="#70777c" stroke-width="0.9"/>
<line x1="134.7" y1="389.6" x2="134.7" y2="392.0" stroke="#70777c" stroke-width="0.9"/>
<line x1="147.1" y1="391.7" x2="147.1" y2="394.1" stroke="#70777c" stroke-width="0.9"/>
<line x1="159.5" y1="391.7" x2="159.5" y2="394.1" stroke="#70777c" stroke-width="0.9"/>
<line x1="171.9" y1="396.0" x2="171.9" y2="398.4" stroke="#70777c" stroke-width="0.9"/>
<line x1="184.4" y1="396.0" x2="184.4" y2="398.4" stroke="#70777c" stroke-width="0.9"/>
<line x1="196.8" y1="398.2" x2="196.8" y2="400.6" stroke="#70777c" stroke-width="0.9"/>
<line x1="209.2" y1="402.5" x2="209.2" y2="404.9" stroke="#70777c" stroke-width="0.9"/>
<line x1="221.6" y1="402.5" x2="221.6" y2="404.9" stroke="#70777c" stroke-width="0.9"/>
<line x1="234.0" y1="404.7" x2="234.0" y2="407.1" stroke="#70777c" stroke-width="0.9"/>
<line x1="246.4" y1="404.7" x2="246.4" y2="407.1" stroke="#70777c" stroke-width="0.9"/>
<line x1="258.8" y1="398.2" x2="258.8" y2="400.6" stroke="#70777c" stroke-width="0.9"/>
<line x1="271.2" y1="391.7" x2="271.2" y2="394.1" stroke="#70777c" stroke-width="0.9"/>
<line x1="283.6" y1="387.4" x2="283.6" y2="389.8" stroke="#70777c" stroke-width="0.9"/>
<line x1="296.1" y1="385.2" x2="296.1" y2="387.6" stroke="#70777c" stroke-width="0.9"/>
<line x1="308.5" y1="383.1" x2="308.5" y2="385.5" stroke="#70777c" stroke-width="0.9"/>
<line x1="320.9" y1="383.1" x2="320.9" y2="385.5" stroke="#70777c" stroke-width="0.9"/>
<line x1="333.3" y1="385.2" x2="333.3" y2="387.6" stroke="#70777c" stroke-width="0.9"/>
<line x1="345.7" y1="385.2" x2="345.7" y2="387.6" stroke="#70777c" stroke-width="0.9"/>
<line x1="358.1" y1="387.4" x2="358.1" y2="389.8" stroke="#70777c" stroke-width="0.9"/>
<line x1="370.5" y1="387.4" x2="370.5" y2="389.8" stroke="#70777c" stroke-width="0.9"/>
<line x1="382.9" y1="389.6" x2="382.9" y2="392.0" stroke="#70777c" stroke-width="0.9"/>
<line x1="395.3" y1="391.7" x2="395.3" y2="394.1" stroke="#70777c" stroke-width="0.9"/>
<line x1="407.7" y1="393.9" x2="407.7" y2="396.3" stroke="#70777c" stroke-width="0.9"/>
<line x1="420.1" y1="393.9" x2="420.1" y2="396.3" stroke="#70777c" stroke-width="0.9"/>
<line x1="432.6" y1="393.9" x2="432.6" y2="396.3" stroke="#70777c" stroke-width="0.9"/>
<line x1="445.0" y1="396.0" x2="445.0" y2="398.4" stroke="#70777c" stroke-width="0.9"/>
<line x1="457.4" y1="400.4" x2="457.4" y2="402.8" stroke="#70777c" stroke-width="0.9"/>
<line x1="469.8" y1="398.2" x2="469.8" y2="400.6" stroke="#70777c" stroke-width="0.9"/>
<line x1="482.2" y1="391.7" x2="482.2" y2="394.1" stroke="#70777c" stroke-width="0.9"/>
<line x1="494.6" y1="389.6" x2="494.6" y2="392.0" stroke="#70777c" stroke-width="0.9"/>
<line x1="507.0" y1="387.4" x2="507.0" y2="389.8" stroke="#70777c" stroke-width="0.9"/>
<line x1="519.4" y1="385.2" x2="519.4" y2="387.6" stroke="#70777c" stroke-width="0.9"/>
<line x1="531.8" y1="385.2" x2="531.8" y2="387.6" stroke="#70777c" stroke-width="0.9"/>
<line x1="544.2" y1="385.2" x2="544.2" y2="387.6" stroke="#70777c" stroke-width="0.9"/>
<line x1="556.7" y1="387.4" x2="556.7" y2="389.8" stroke="#70777c" stroke-width="0.9"/>
<line x1="569.1" y1="387.4" x2="569.1" y2="389.8" stroke="#70777c" stroke-width="0.9"/>
<line x1="581.5" y1="387.4" x2="581.5" y2="389.8" stroke="#70777c" stroke-width="0.9"/>
<line x1="593.9" y1="389.6" x2="593.9" y2="392.0" stroke="#70777c" stroke-width="0.9"/>
<line x1="606.3" y1="391.7" x2="606.3" y2="394.1" stroke="#70777c" stroke-width="0.9"/>
<line x1="618.7" y1="391.7" x2="618.7" y2="394.1" stroke="#70777c" stroke-width="0.9"/>
<line x1="631.1" y1="393.9" x2="631.1" y2="396.3" stroke="#70777c" stroke-width="0.9"/>
<line x1="643.5" y1="396.0" x2="643.5" y2="398.4" stroke="#70777c" stroke-width="0.9"/>
<line x1="655.9" y1="396.0" x2="655.9" y2="398.4" stroke="#70777c" stroke-width="0.9"/>
<line x1="668.4" y1="398.2" x2="668.4" y2="400.6" stroke="#70777c" stroke-width="0.9"/>
<line x1="680.8" y1="400.4" x2="680.8" y2="402.8" stroke="#70777c" stroke-width="0.9"/>
<line x1="693.2" y1="400.4" x2="693.2" y2="402.8" stroke="#70777c" stroke-width="0.9"/>
<line x1="705.6" y1="396.0" x2="705.6" y2="398.4" stroke="#70777c" stroke-width="0.9"/>
<line x1="718.0" y1="391.7" x2="718.0" y2="394.1" stroke="#70777c" stroke-width="0.9"/>
<line x1="730.4" y1="387.4" x2="730.4" y2="389.8" stroke="#70777c" stroke-width="0.9"/>
<line x1="742.8" y1="387.4" x2="742.8" y2="389.8" stroke="#70777c" stroke-width="0.9"/>
<line x1="755.2" y1="385.2" x2="755.2" y2="387.6" stroke="#70777c" stroke-width="0.9"/>
<line x1="767.6" y1="385.2" x2="767.6" y2="387.6" stroke="#70777c" stroke-width="0.9"/>
<line x1="780.0" y1="387.4" x2="780.0" y2="389.8" stroke="#70777c" stroke-width="0.9"/>
<line x1="792.5" y1="387.4" x2="792.5" y2="389.8" stroke="#70777c" stroke-width="0.9"/>
<line x1="804.9" y1="387.4" x2="804.9" y2="389.8" stroke="#70777c" stroke-width="0.9"/>
<line x1="68" y1="455.2" x2="815" y2="455.2" stroke="#c8c8c8" stroke-width="0.8" stroke-dasharray="1.4,2.8" opacity="0.6"/>
<line x1="68" y1="461.8" x2="815" y2="461.8" stroke="#c8c8c8" stroke-width="0.8" stroke-dasharray="1.4,2.8" opacity="0.6"/>
<line x1="68" y1="468.4" x2="815" y2="468.4" stroke="#c8c8c8" stroke-width="0.8" stroke-dasharray="1.4,2.8" opacity="0.6"/>
<line x1="68" y1="475.0" x2="815" y2="475.0" stroke="#c8c8c8" stroke-width="0.8" stroke-dasharray="1.4,2.8" opacity="0.6"/>
<line x1="68" y1="481.6" x2="815" y2="481.6" stroke="#c8c8c8" stroke-width="0.8" stroke-dasharray="1.4,2.8" opacity="0.6"/>
<line x1="68" y1="488.2" x2="815" y2="488.2" stroke="#c8c8c8" stroke-width="0.8" stroke-dasharray="1.4,2.8" opacity="0.6"/>
<line x1="68" y1="494.8" x2="815" y2="494.8" stroke="#c8c8c8" stroke-width="0.8" stroke-dasharray="1.4,2.8" opacity="0.6"/>
<path d="M68.0 483.6 C83.0 483.6 142.2 483.5 158.0 483.6 C173.8 483.8 160.0 484.4 163.0 484.5 C166.0 484.6 171.8 484.8 176.0 484.5 C180.2 484.2 184.0 483.2 188.0 482.5 C192.0 481.8 196.5 481.1 200.0 480.3 C203.5 479.5 206.0 478.2 209.0 477.5 C212.0 476.8 214.5 476.6 218.0 476.0 C221.5 475.4 226.3 474.5 230.0 474.2 C233.7 473.9 236.7 473.9 240.0 474.3 C243.3 474.7 246.7 475.8 250.0 476.5 C253.3 477.2 256.3 477.9 260.0 478.5 C263.7 479.1 268.0 479.6 272.0 480.0 C276.0 480.4 279.0 480.9 284.0 481.2 C289.0 481.5 298.5 481.5 302.0 481.7 C305.5 481.9 304.0 482.3 305.0 482.3 C306.0 482.3 304.5 482.0 308.0 481.7 C311.5 481.4 320.7 480.7 326.0 480.5 C331.3 480.3 336.0 480.2 340.0 480.5 C344.0 480.8 347.0 481.7 350.0 482.3 C353.0 482.9 350.0 483.7 358.0 484.0 C366.0 484.3 390.0 484.2 398.0 484.0 C406.0 483.8 403.3 483.4 406.0 483.0 C408.7 482.6 410.0 481.9 414.0 481.7 C418.0 481.4 425.7 481.7 430.0 481.5 C434.3 481.3 436.7 481.0 440.0 480.5 C443.3 480.0 447.0 478.9 450.0 478.3 C453.0 477.7 455.2 477.1 458.0 477.0 C460.8 476.9 463.8 477.6 467.0 478.0 C470.2 478.4 473.5 478.9 477.0 479.4 C480.5 479.9 484.5 480.5 488.0 481.0 C491.5 481.5 494.0 482.3 498.0 482.6 C502.0 482.9 509.0 482.7 512.0 482.6 C515.0 482.5 514.7 482.0 516.0 482.0 C517.3 482.0 516.8 482.7 520.0 482.7 C523.2 482.7 529.8 482.1 535.0 481.8 C540.2 481.6 544.3 481.3 551.0 481.2 C557.7 481.1 568.0 481.3 575.0 481.4 C582.0 481.5 588.0 481.5 593.0 481.8 C598.0 482.1 601.5 482.7 605.0 483.0 C608.5 483.3 611.2 483.6 614.0 483.6 C616.8 483.6 619.7 483.3 622.0 483.0 C624.3 482.7 626.2 482.4 628.0 481.7 C629.8 481.0 631.5 480.1 633.0 479.0 C634.5 477.9 635.8 475.9 637.0 475.0 C638.2 474.1 638.8 473.5 640.0 473.4 C641.2 473.3 642.7 474.3 644.0 474.2 C645.3 474.1 646.5 473.4 648.0 473.0 C649.5 472.6 650.7 472.0 653.0 471.9 C655.3 471.8 658.3 472.2 662.0 472.6 C665.7 473.0 670.8 473.7 675.0 474.2 C679.2 474.7 683.3 475.1 687.0 475.6 C690.7 476.1 694.0 476.8 697.0 477.3 C700.0 477.9 702.0 478.4 705.0 478.9 C708.0 479.4 711.8 480.0 715.0 480.5 C718.2 481.0 721.2 481.3 724.0 481.7 C726.8 482.1 729.7 482.7 732.0 483.0 C734.3 483.3 729.2 483.5 738.0 483.6 C746.8 483.7 776.3 483.7 785.0 483.6 C793.7 483.5 785.3 482.9 790.0 482.8 C794.7 482.7 809.2 482.8 813.0 482.8" fill="none" stroke="#595959" stroke-width="1.4" stroke-linejoin="round"/>
<rect x="168.6" y="503.9" width="2.6" height="16.7" rx="1.3" fill="url(#sn)"/>
<rect x="168.6" y="504.4" width="1.3" height="15.8" fill="#e2532c" opacity="0.85"/>
<rect x="244.3" y="503.9" width="1.7" height="16.7" rx="0.8" fill="url(#sn)"/>
<rect x="244.3" y="504.4" width="0.9" height="15.8" fill="#e2532c" opacity="0.85"/>
<rect x="394.4" y="503.9" width="5.8" height="16.7" rx="1.3" fill="url(#sn)"/>
<rect x="394.4" y="504.4" width="1.3" height="15.8" fill="#e2532c" opacity="0.85"/>
<rect x="409.8" y="503.9" width="2.0" height="16.7" rx="1.0" fill="url(#sn)"/>
<rect x="409.8" y="504.4" width="1.1" height="15.8" fill="#e2532c" opacity="0.85"/>
<rect x="424.0" y="503.9" width="4.2" height="16.7" rx="1.3" fill="url(#sn)"/>
<rect x="424.0" y="504.4" width="1.3" height="15.8" fill="#e2532c" opacity="0.85"/>
<rect x="622.6" y="503.9" width="1.4" height="16.7" rx="0.7" fill="url(#sn)"/>
<rect x="622.6" y="504.4" width="0.8" height="15.8" fill="#e2532c" opacity="0.85"/>
<rect x="627.3" y="503.9" width="1.5" height="16.7" rx="0.8" fill="url(#sn)"/>
<rect x="627.3" y="504.4" width="0.8" height="15.8" fill="#e2532c" opacity="0.85"/>
<rect x="682.3" y="503.9" width="4.9" height="16.7" rx="1.3" fill="url(#sn)"/>
<rect x="682.3" y="504.4" width="1.3" height="15.8" fill="#e2532c" opacity="0.85"/>
<line x1="68.5" y1="508.8" x2="813" y2="508.8" stroke="#222" stroke-width="1.0"/>
<polyline points="150.0,508.6 150.5,508.6 151.0,508.6 151.5,508.9 152.0,508.6 152.5,508.3 153.0,508.6 153.5,508.9 154.0,508.6 154.5,508.6 155.0,508.2 155.5,509.0 156.0,508.2 156.5,508.6 157.0,508.6 157.5,508.6 158.0,509.0 158.5,508.6 159.0,508.3 159.5,508.6 160.0,508.6 160.5,508.6 161.0,508.6 161.5,508.6 162.0,509.0 162.5,508.6 163.0,508.6 163.5,508.6 164.0,508.6 164.5,508.6 165.0,508.6 165.5,508.1" fill="none" stroke="#1c1c1c" stroke-width="0.95"/>
<polyline points="172.0,509.0 172.5,508.2 173.0,508.6 173.5,509.0 174.0,508.2 174.5,509.0 175.0,508.3 175.5,508.6 176.0,509.0 176.5,508.6" fill="none" stroke="#1c1c1c" stroke-width="0.95"/>
<polyline points="178.0,509.3 178.5,507.5 179.0,509.5 179.5,508.1 180.0,509.5 180.5,507.6 181.0,509.6 181.5,507.9 182.0,509.5 182.5,508.6 183.0,507.6 183.5,509.2 184.0,507.9 184.5,509.2 185.0,508.0 185.5,509.7 186.0,507.5 186.5,509.3 187.0,507.8 187.5,509.5 188.0,507.9 188.5,509.4 189.0,507.7 189.5,509.3 190.0,508.1 190.5,509.6 191.0,507.8 191.5,509.2 192.0,507.7 192.5,509.4 193.0,508.0 193.5,509.1 194.0,507.7 194.5,509.4 195.0,508.0 195.5,509.4 196.0,507.8 196.5,509.1 197.0,508.6 197.5,507.6 198.0,509.6 198.5,508.1 199.0,509.7 199.5,507.7 200.0,509.2 200.5,508.1 201.0,509.7 201.5,507.7 202.0,509.2 202.5,508.1 203.0,509.3 203.5,507.5 204.0,509.6 204.5,507.8 205.0,509.5 205.5,507.5 206.0,509.1 206.5,508.0 207.0,509.1 207.5,508.0 208.0,509.7 208.5,507.9 209.0,509.4 209.5,507.6" fill="none" stroke="#1c1c1c" stroke-width="0.95"/>
<polyline points="213.0,509.0 213.5,507.7 214.0,509.3 214.5,508.1 215.0,509.5 215.5,507.8 216.0,509.1 216.5,508.2 217.0,509.2 217.5,507.6 218.0,509.3 218.5,508.1 219.0,509.4 219.5,508.0 220.0,509.4 220.5,508.1" fill="none" stroke="#1c1c1c" stroke-width="0.95"/>
<polyline points="225.0,509.1 225.5,508.2 226.0,509.0 226.5,507.9 227.0,509.2 227.5,507.9" fill="none" stroke="#1c1c1c" stroke-width="0.95"/>
<polyline points="388.0,509.1 388.5,508.6 389.0,508.0 389.5,508.9 390.0,508.6 390.5,508.6 391.0,508.2 391.5,509.0 392.0,507.9 392.5,509.1 393.0,508.6 393.5,508.2" fill="none" stroke="#1c1c1c" stroke-width="0.95"/>
<polyline points="400.0,509.3 400.5,508.2 401.0,508.6 401.5,508.6 402.0,508.9 402.5,508.6 403.0,508.6 403.5,508.2 404.0,508.6 404.5,508.6 405.0,508.6 405.5,509.0 406.0,508.6 406.5,508.6 407.0,508.1 407.5,509.0 408.0,508.2 408.5,508.6 409.0,508.6 409.5,509.1" fill="none" stroke="#1c1c1c" stroke-width="0.95"/>
<polyline points="412.0,508.6 412.5,508.6 413.0,508.9 413.5,508.0 414.0,508.6 414.5,508.6 415.0,508.6 415.5,508.6 416.0,509.0 416.5,508.2 417.0,508.6 417.5,508.6 418.0,509.3 418.5,508.3 419.0,509.2 419.5,508.6" fill="none" stroke="#1c1c1c" stroke-width="0.95"/>
<polyline points="428.0,509.1 428.5,508.0 429.0,509.0 429.5,507.8 430.0,509.4 430.5,508.2 431.0,509.0 431.5,507.7 432.0,508.6 432.5,509.2" fill="none" stroke="#1c1c1c" stroke-width="0.95"/>
<polyline points="434.0,509.1 434.5,508.6 435.0,508.2 435.5,508.6 436.0,508.6 436.5,508.6 437.0,508.9 437.5,508.3 438.0,508.9 438.5,508.3 439.0,509.0 439.5,508.2" fill="none" stroke="#1c1c1c" stroke-width="0.95"/>
<polyline points="610.0,508.8 610.5,508.6 611.0,508.6 611.5,508.6 612.0,508.2 612.5,508.8 613.0,508.4 613.5,509.0 614.0,508.2 614.5,509.1 615.0,508.2 615.5,508.6 616.0,509.0 616.5,508.4 617.0,508.6 617.5,508.6" fill="none" stroke="#1c1c1c" stroke-width="0.95"/>
<polyline points="624.0,509.0 624.5,508.2 625.0,509.0 625.5,508.1 626.0,509.2 626.5,508.2" fill="none" stroke="#1c1c1c" stroke-width="0.95"/>
<polyline points="629.0,508.6 629.5,509.3 630.0,508.6 630.5,508.6 631.0,507.9 631.5,509.1 632.0,508.2 632.5,509.4 633.0,507.8 633.5,509.1 634.0,507.6 634.5,509.4 635.0,507.9 635.5,509.4 636.0,508.1 636.5,509.3" fill="none" stroke="#1c1c1c" stroke-width="0.95"/>
<polyline points="640.0,509.6 640.5,507.9 641.0,509.2 641.5,508.0 642.0,509.1 642.5,507.7 643.0,509.3 643.5,507.6 644.0,509.6 644.5,507.8 645.0,509.6 645.5,508.0 646.0,509.5 646.5,508.1 647.0,509.7 647.5,507.8 648.0,509.1 648.5,508.1 649.0,509.1 649.5,507.9 650.0,509.7 650.5,507.6 651.0,509.6 651.5,508.0" fill="none" stroke="#1c1c1c" stroke-width="0.95"/>
<polyline points="655.0,509.2 655.5,508.0 656.0,509.4 656.5,508.0 657.0,509.5 657.5,507.8 658.0,509.4 658.5,508.2 659.0,509.4 659.5,507.7 660.0,509.3 660.5,507.7 661.0,509.5 661.5,508.2 662.0,509.2 662.5,507.8 663.0,509.2 663.5,508.6 664.0,507.8 664.5,509.4 665.0,508.6 665.5,508.0" fill="none" stroke="#1c1c1c" stroke-width="0.95"/>
<polyline points="671.0,509.1 671.5,508.6 672.0,508.6 672.5,508.1 673.0,508.9 673.5,508.3 674.0,509.1 674.5,508.2 675.0,508.6 675.5,509.3 676.0,508.1 676.5,509.0" fill="none" stroke="#1c1c1c" stroke-width="0.95"/>
<polyline points="688.0,509.1 688.5,508.1 689.0,509.0 689.5,508.1" fill="none" stroke="#1c1c1c" stroke-width="0.95"/>
<polyline points="700.0,508.6 700.5,508.6 701.0,508.6 701.5,509.0 702.0,508.6 702.5,508.1" fill="none" stroke="#1c1c1c" stroke-width="0.95"/>
<polyline points="706.0,508.6 706.5,508.6 707.0,508.9 707.5,508.6" fill="none" stroke="#1c1c1c" stroke-width="0.95"/>
<polyline points="720.0,509.3 720.5,507.6 721.0,509.6 721.5,507.5 722.0,509.6 722.5,507.5 723.0,509.4 723.5,507.9 724.0,509.3 724.5,507.6 725.0,509.8 725.5,508.1 726.0,509.5 726.5,508.1 727.0,509.8 727.5,507.8" fill="none" stroke="#1c1c1c" stroke-width="0.95"/>
<polyline points="745.0,509.0 745.5,508.1 746.0,509.2 746.5,508.4 747.0,508.6 747.5,508.9" fill="none" stroke="#1c1c1c" stroke-width="0.95"/>
<polyline points="758.0,508.6 758.5,509.2 759.0,508.1 759.5,508.6 760.0,508.9 760.5,508.4 761.0,509.0 761.5,508.0" fill="none" stroke="#1c1c1c" stroke-width="0.95"/>
<polyline points="776.0,509.0 776.5,508.6 777.0,508.0 777.5,509.1 778.0,508.3 778.5,509.2 779.0,508.1 779.5,509.0 780.0,508.1 780.5,508.6 781.0,509.2 781.5,508.6" fill="none" stroke="#1c1c1c" stroke-width="0.95"/>
<polyline points="790.0,509.2 790.5,507.9 791.0,509.1 791.5,508.6 792.0,508.0 792.5,509.0 793.0,508.1 793.5,509.3 794.0,508.1 794.5,508.9 795.0,508.6 795.5,508.2" fill="none" stroke="#1c1c1c" stroke-width="0.95"/>
<polyline points="800.0,509.0 800.5,508.6 801.0,508.4 801.5,509.0 802.0,508.2 802.5,508.6 803.0,508.9 803.5,508.2 804.0,508.6 804.5,509.0 805.0,508.1 805.5,508.6 806.0,508.6 806.5,509.0 807.0,508.6 807.5,508.6 808.0,508.6 808.5,508.6 809.0,508.3 809.5,508.6 810.0,508.6 810.5,508.9 811.0,508.6 811.5,508.6" fill="none" stroke="#1c1c1c" stroke-width="0.95"/>
<line x1="82.2" y1="507.7" x2="82.2" y2="509.5" stroke="#1c1c1c" stroke-width="1.1"/>
<line x1="89.5" y1="507.8" x2="89.5" y2="509.4" stroke="#1c1c1c" stroke-width="1.1"/>
<line x1="96.4" y1="508.0" x2="96.4" y2="509.2" stroke="#1c1c1c" stroke-width="1.1"/>
<line x1="107.2" y1="508.0" x2="107.2" y2="509.2" stroke="#1c1c1c" stroke-width="1.1"/>
<line x1="116.1" y1="507.7" x2="116.1" y2="509.5" stroke="#1c1c1c" stroke-width="1.1"/>
<line x1="126.4" y1="507.8" x2="126.4" y2="509.4" stroke="#1c1c1c" stroke-width="1.1"/>
<line x1="130.9" y1="507.8" x2="130.9" y2="509.4" stroke="#1c1c1c" stroke-width="1.1"/>
<line x1="141.4" y1="507.7" x2="141.4" y2="509.5" stroke="#1c1c1c" stroke-width="1.1"/>
<line x1="145.1" y1="508.1" x2="145.1" y2="509.1" stroke="#1c1c1c" stroke-width="1.1"/>
<line x1="157.5" y1="508.0" x2="157.5" y2="509.2" stroke="#1c1c1c" stroke-width="1.1"/>
<line x1="166.9" y1="507.7" x2="166.9" y2="509.5" stroke="#1c1c1c" stroke-width="1.1"/>
<line x1="172.2" y1="507.8" x2="172.2" y2="509.4" stroke="#1c1c1c" stroke-width="1.1"/>
<line x1="183.9" y1="508.0" x2="183.9" y2="509.2" stroke="#1c1c1c" stroke-width="1.1"/>
<line x1="188.5" y1="508.0" x2="188.5" y2="509.2" stroke="#1c1c1c" stroke-width="1.1"/>
<line x1="197.0" y1="507.8" x2="197.0" y2="509.4" stroke="#1c1c1c" stroke-width="1.1"/>
<line x1="209.9" y1="507.7" x2="209.9" y2="509.5" stroke="#1c1c1c" stroke-width="1.1"/>
<line x1="222.6" y1="508.0" x2="222.6" y2="509.2" stroke="#1c1c1c" stroke-width="1.1"/>
<line x1="232.7" y1="507.7" x2="232.7" y2="509.5" stroke="#1c1c1c" stroke-width="1.1"/>
<line x1="242.4" y1="507.8" x2="242.4" y2="509.4" stroke="#1c1c1c" stroke-width="1.1"/>
<line x1="253.3" y1="507.8" x2="253.3" y2="509.4" stroke="#1c1c1c" stroke-width="1.1"/>
<line x1="263.0" y1="508.0" x2="263.0" y2="509.2" stroke="#1c1c1c" stroke-width="1.1"/>
<line x1="269.4" y1="507.8" x2="269.4" y2="509.4" stroke="#1c1c1c" stroke-width="1.1"/>
<line x1="279.8" y1="508.1" x2="279.8" y2="509.1" stroke="#1c1c1c" stroke-width="1.1"/>
<line x1="286.8" y1="508.1" x2="286.8" y2="509.1" stroke="#1c1c1c" stroke-width="1.1"/>
<line x1="291.1" y1="507.8" x2="291.1" y2="509.4" stroke="#1c1c1c" stroke-width="1.1"/>
<line x1="296.5" y1="507.7" x2="296.5" y2="509.5" stroke="#1c1c1c" stroke-width="1.1"/>
<line x1="306.4" y1="508.0" x2="306.4" y2="509.2" stroke="#1c1c1c" stroke-width="1.1"/>
<line x1="314.3" y1="508.1" x2="314.3" y2="509.1" stroke="#1c1c1c" stroke-width="1.1"/>
<line x1="328.1" y1="508.1" x2="328.1" y2="509.1" stroke="#1c1c1c" stroke-width="1.1"/>
<line x1="331.5" y1="507.7" x2="331.5" y2="509.5" stroke="#1c1c1c" stroke-width="1.1"/>
<line x1="335.7" y1="508.0" x2="335.7" y2="509.2" stroke="#1c1c1c" stroke-width="1.1"/>
<line x1="342.0" y1="507.8" x2="342.0" y2="509.4" stroke="#1c1c1c" stroke-width="1.1"/>
<line x1="355.6" y1="508.0" x2="355.6" y2="509.2" stroke="#1c1c1c" stroke-width="1.1"/>
<line x1="361.0" y1="508.0" x2="361.0" y2="509.2" stroke="#1c1c1c" stroke-width="1.1"/>
<line x1="367.1" y1="508.1" x2="367.1" y2="509.1" stroke="#1c1c1c" stroke-width="1.1"/>
<line x1="372.5" y1="508.0" x2="372.5" y2="509.2" stroke="#1c1c1c" stroke-width="1.1"/>
<line x1="375.8" y1="507.8" x2="375.8" y2="509.4" stroke="#1c1c1c" stroke-width="1.1"/>
<line x1="383.5" y1="508.1" x2="383.5" y2="509.1" stroke="#1c1c1c" stroke-width="1.1"/>
<line x1="397.0" y1="507.8" x2="397.0" y2="509.4" stroke="#1c1c1c" stroke-width="1.1"/>
<line x1="408.0" y1="508.1" x2="408.0" y2="509.1" stroke="#1c1c1c" stroke-width="1.1"/>
<line x1="415.4" y1="507.7" x2="415.4" y2="509.5" stroke="#1c1c1c" stroke-width="1.1"/>
<line x1="420.9" y1="508.1" x2="420.9" y2="509.1" stroke="#1c1c1c" stroke-width="1.1"/>
<line x1="432.7" y1="507.8" x2="432.7" y2="509.4" stroke="#1c1c1c" stroke-width="1.1"/>
<line x1="443.0" y1="507.8" x2="443.0" y2="509.4" stroke="#1c1c1c" stroke-width="1.1"/>
<line x1="446.7" y1="507.7" x2="446.7" y2="509.5" stroke="#1c1c1c" stroke-width="1.1"/>
<line x1="456.1" y1="507.7" x2="456.1" y2="509.5" stroke="#1c1c1c" stroke-width="1.1"/>
<line x1="464.1" y1="507.7" x2="464.1" y2="509.5" stroke="#1c1c1c" stroke-width="1.1"/>
<line x1="469.2" y1="508.0" x2="469.2" y2="509.2" stroke="#1c1c1c" stroke-width="1.1"/>
<line x1="473.4" y1="508.0" x2="473.4" y2="509.2" stroke="#1c1c1c" stroke-width="1.1"/>
<line x1="479.5" y1="508.0" x2="479.5" y2="509.2" stroke="#1c1c1c" stroke-width="1.1"/>
<line x1="483.3" y1="508.1" x2="483.3" y2="509.1" stroke="#1c1c1c" stroke-width="1.1"/>
<line x1="491.2" y1="508.0" x2="491.2" y2="509.2" stroke="#1c1c1c" stroke-width="1.1"/>
<line x1="502.9" y1="508.0" x2="502.9" y2="509.2" stroke="#1c1c1c" stroke-width="1.1"/>
<line x1="514.4" y1="508.0" x2="514.4" y2="509.2" stroke="#1c1c1c" stroke-width="1.1"/>
<line x1="523.5" y1="507.8" x2="523.5" y2="509.4" stroke="#1c1c1c" stroke-width="1.1"/>
<line x1="534.8" y1="508.1" x2="534.8" y2="509.1" stroke="#1c1c1c" stroke-width="1.1"/>
<line x1="547.9" y1="508.1" x2="547.9" y2="509.1" stroke="#1c1c1c" stroke-width="1.1"/>
<line x1="551.6" y1="508.0" x2="551.6" y2="509.2" stroke="#1c1c1c" stroke-width="1.1"/>
<line x1="559.2" y1="507.8" x2="559.2" y2="509.4" stroke="#1c1c1c" stroke-width="1.1"/>
<line x1="568.3" y1="508.0" x2="568.3" y2="509.2" stroke="#1c1c1c" stroke-width="1.1"/>
<line x1="577.5" y1="507.8" x2="577.5" y2="509.4" stroke="#1c1c1c" stroke-width="1.1"/>
<line x1="591.4" y1="507.8" x2="591.4" y2="509.4" stroke="#1c1c1c" stroke-width="1.1"/>
<line x1="595.6" y1="508.0" x2="595.6" y2="509.2" stroke="#1c1c1c" stroke-width="1.1"/>
<line x1="606.2" y1="507.7" x2="606.2" y2="509.5" stroke="#1c1c1c" stroke-width="1.1"/>
<line x1="619.1" y1="507.7" x2="619.1" y2="509.5" stroke="#1c1c1c" stroke-width="1.1"/>
<line x1="630.6" y1="507.8" x2="630.6" y2="509.4" stroke="#1c1c1c" stroke-width="1.1"/>
<line x1="634.7" y1="508.0" x2="634.7" y2="509.2" stroke="#1c1c1c" stroke-width="1.1"/>
<line x1="641.7" y1="507.7" x2="641.7" y2="509.5" stroke="#1c1c1c" stroke-width="1.1"/>
<line x1="650.1" y1="508.1" x2="650.1" y2="509.1" stroke="#1c1c1c" stroke-width="1.1"/>
<line x1="663.1" y1="507.8" x2="663.1" y2="509.4" stroke="#1c1c1c" stroke-width="1.1"/>
<line x1="671.4" y1="508.0" x2="671.4" y2="509.2" stroke="#1c1c1c" stroke-width="1.1"/>
<line x1="683.7" y1="507.8" x2="683.7" y2="509.4" stroke="#1c1c1c" stroke-width="1.1"/>
<line x1="692.3" y1="508.0" x2="692.3" y2="509.2" stroke="#1c1c1c" stroke-width="1.1"/>
<line x1="699.2" y1="508.1" x2="699.2" y2="509.1" stroke="#1c1c1c" stroke-width="1.1"/>
<line x1="712.5" y1="508.0" x2="712.5" y2="509.2" stroke="#1c1c1c" stroke-width="1.1"/>
<line x1="723.3" y1="507.7" x2="723.3" y2="509.5" stroke="#1c1c1c" stroke-width="1.1"/>
<line x1="734.8" y1="507.7" x2="734.8" y2="509.5" stroke="#1c1c1c" stroke-width="1.1"/>
<line x1="739.6" y1="507.7" x2="739.6" y2="509.5" stroke="#1c1c1c" stroke-width="1.1"/>
<line x1="744.1" y1="508.1" x2="744.1" y2="509.1" stroke="#1c1c1c" stroke-width="1.1"/>
<line x1="748.3" y1="507.7" x2="748.3" y2="509.5" stroke="#1c1c1c" stroke-width="1.1"/>
<line x1="751.6" y1="508.1" x2="751.6" y2="509.1" stroke="#1c1c1c" stroke-width="1.1"/>
<line x1="759.7" y1="508.1" x2="759.7" y2="509.1" stroke="#1c1c1c" stroke-width="1.1"/>
<line x1="764.9" y1="508.1" x2="764.9" y2="509.1" stroke="#1c1c1c" stroke-width="1.1"/>
<line x1="777.4" y1="507.8" x2="777.4" y2="509.4" stroke="#1c1c1c" stroke-width="1.1"/>
<line x1="787.3" y1="507.7" x2="787.3" y2="509.5" stroke="#1c1c1c" stroke-width="1.1"/>
<line x1="795.6" y1="508.0" x2="795.6" y2="509.2" stroke="#1c1c1c" stroke-width="1.1"/>
<line x1="798.7" y1="508.0" x2="798.7" y2="509.2" stroke="#1c1c1c" stroke-width="1.1"/>
<line x1="811.6" y1="507.7" x2="811.6" y2="509.5" stroke="#1c1c1c" stroke-width="1.1"/>
<line x1="824.3" y1="508.1" x2="824.3" y2="509.1" stroke="#1c1c1c" stroke-width="1.1"/>
<line x1="168.7" y1="499.8" x2="168.7" y2="514.0" stroke="#1a1a1a" stroke-width="1.2" stroke-linecap="round"/>
<line x1="395.0" y1="497.4" x2="395.0" y2="514.3" stroke="#1a1a1a" stroke-width="1.3" stroke-linecap="round"/>
<line x1="409.6" y1="503.5" x2="409.6" y2="514.0" stroke="#1a1a1a" stroke-width="0.8" stroke-linecap="round"/>
<line x1="420.9" y1="503.3" x2="420.9" y2="512.0" stroke="#1a1a1a" stroke-width="1.2" stroke-linecap="round"/>
<line x1="618.9" y1="503.0" x2="618.9" y2="512.0" stroke="#1a1a1a" stroke-width="1.2" stroke-linecap="round"/>
<line x1="686.0" y1="497.2" x2="686.0" y2="512.5" stroke="#1a1a1a" stroke-width="1.3" stroke-linecap="round"/>
<line x1="395" y1="508.8" x2="410" y2="508.8" stroke="#1a1a1a" stroke-width="1.6"/>
<line x1="168.7" y1="500.5" x2="168.7" y2="505.0" stroke="#1a1a1a" stroke-width="1.6" stroke-linecap="round"/>
<line x1="395.1" y1="498.2" x2="395.1" y2="506.0" stroke="#1a1a1a" stroke-width="1.6" stroke-linecap="round"/>
<line x1="686.0" y1="498.0" x2="686.0" y2="504.5" stroke="#1a1a1a" stroke-width="1.6" stroke-linecap="round"/>
<text x="258.4" y="140.7" font-family='"Liberation Sans", sans-serif' font-size="10.35" fill="#261c1c" text-anchor="start" >Obstructive</text>
<text x="482.7" y="140.7" font-family='"Liberation Sans", sans-serif' font-size="10.35" fill="#261c1c" text-anchor="start" >Obstructive</text>
<text x="708.7" y="140.7" font-family='"Liberation Sans", sans-serif' font-size="10.35" fill="#261c1c" text-anchor="start" >Obstructive</text>
<text x="101.2" y="372.3" font-family='"Liberation Sans", sans-serif' font-size="10.05" fill="#20262e" text-anchor="start" >Desaturation</text>
<text x="324.8" y="372.3" font-family='"Liberation Sans", sans-serif' font-size="10.05" fill="#20262e" text-anchor="start" >Desaturation</text>
<text x="552.0" y="372.3" font-family='"Liberation Sans", sans-serif' font-size="10.05" fill="#20262e" text-anchor="start" >Desaturation</text>
<text x="779.9" y="372.3" font-family='"Liberation Sans", sans-serif' font-size="10.05" fill="#20262e" text-anchor="start" >Desaturation</text>
<text x="70.0" y="344.7" font-family='"DejaVu Sans", "Liberation Sans", sans-serif' font-size="13.2" fill="#808080" text-anchor="start" stroke="#808080" stroke-width="0.35">Supine</text>
<text x="194.1" y="344.7" font-family='"DejaVu Sans", "Liberation Sans", sans-serif' font-size="13.2" fill="#808080" text-anchor="start" stroke="#808080" stroke-width="0.35">Supine</text>
<text x="318.2" y="344.7" font-family='"DejaVu Sans", "Liberation Sans", sans-serif' font-size="13.2" fill="#808080" text-anchor="start" stroke="#808080" stroke-width="0.35">Supine</text>
<text x="442.3" y="344.7" font-family='"DejaVu Sans", "Liberation Sans", sans-serif' font-size="13.2" fill="#808080" text-anchor="start" stroke="#808080" stroke-width="0.35">Supine</text>
<text x="566.4" y="344.7" font-family='"DejaVu Sans", "Liberation Sans", sans-serif' font-size="13.2" fill="#808080" text-anchor="start" stroke="#808080" stroke-width="0.35">Supine</text>
<text x="690.5" y="344.7" font-family='"DejaVu Sans", "Liberation Sans", sans-serif' font-size="13.2" fill="#808080" text-anchor="start" stroke="#808080" stroke-width="0.35">Supine</text>
<text x="233.7" y="123.5" font-family='"DejaVu Sans Mono", "Liberation Mono", monospace' font-size="8.8" fill="#1c1c1c" text-anchor="middle" stroke="#1c1c1c" stroke-width="0.15">3:12am</text>
<text x="481.9" y="123.5" font-family='"DejaVu Sans Mono", "Liberation Mono", monospace' font-size="8.8" fill="#1c1c1c" text-anchor="middle" stroke="#1c1c1c" stroke-width="0.15">3:13am</text>
<text x="730.1" y="123.5" font-family='"DejaVu Sans Mono", "Liberation Mono", monospace' font-size="8.8" fill="#1c1c1c" text-anchor="middle" stroke="#1c1c1c" stroke-width="0.15">3:14am</text>
<text x="50.1" y="380.1" font-family='"Liberation Sans", sans-serif' font-size="10" fill="#333" font-weight="bold" text-anchor="start" textLength="11.2" lengthAdjust="spacingAndGlyphs">100</text>
<text x="53.9" y="401.7" font-family='"Liberation Sans", sans-serif' font-size="10" fill="#333" font-weight="bold" text-anchor="start" textLength="7.4" lengthAdjust="spacingAndGlyphs">90</text>
<text x="53.9" y="423.2" font-family='"Liberation Sans", sans-serif' font-size="10" fill="#333" font-weight="bold" text-anchor="start" textLength="7.4" lengthAdjust="spacingAndGlyphs">80</text>
<text x="53.9" y="444.9" font-family='"Liberation Sans", sans-serif' font-size="10" fill="#333" font-weight="bold" text-anchor="start" textLength="7.4" lengthAdjust="spacingAndGlyphs">70</text>
<text x="50.1" y="459.1" font-family='"Liberation Sans", sans-serif' font-size="10" fill="#333" font-weight="bold" text-anchor="start" textLength="11.2" lengthAdjust="spacingAndGlyphs">100</text>
<text x="53.9" y="472.3" font-family='"Liberation Sans", sans-serif' font-size="10" fill="#333" font-weight="bold" text-anchor="start" textLength="7.4" lengthAdjust="spacingAndGlyphs">80</text>
<text x="53.9" y="485.5" font-family='"Liberation Sans", sans-serif' font-size="10" fill="#333" font-weight="bold" text-anchor="start" textLength="7.4" lengthAdjust="spacingAndGlyphs">60</text>
<text x="53.9" y="498.7" font-family='"Liberation Sans", sans-serif' font-size="10" fill="#333" font-weight="bold" text-anchor="start" textLength="7.4" lengthAdjust="spacingAndGlyphs">40</text>
<text x="72.7" y="392.1" font-family='"Liberation Sans", sans-serif' font-size="7.4" fill="#76828e" fill-opacity="0.62" text-anchor="middle" textLength="7.4" lengthAdjust="spacingAndGlyphs">97</text>
<text x="85.1" y="394.2" font-family='"Liberation Sans", sans-serif' font-size="7.4" fill="#76828e" fill-opacity="0.62" text-anchor="middle" textLength="7.4" lengthAdjust="spacingAndGlyphs">96</text>
<text x="97.5" y="394.2" font-family='"Liberation Sans", sans-serif' font-size="7.4" fill="#76828e" fill-opacity="0.62" text-anchor="middle" textLength="7.4" lengthAdjust="spacingAndGlyphs">96</text>
<text x="109.9" y="396.4" font-family='"Liberation Sans", sans-serif' font-size="7.4" fill="#76828e" fill-opacity="0.62" text-anchor="middle" textLength="7.4" lengthAdjust="spacingAndGlyphs">95</text>
<text x="122.3" y="396.4" font-family='"Liberation Sans", sans-serif' font-size="7.4" fill="#76828e" fill-opacity="0.62" text-anchor="middle" textLength="7.4" lengthAdjust="spacingAndGlyphs">95</text>
<text x="134.7" y="398.6" font-family='"Liberation Sans", sans-serif' font-size="7.4" fill="#76828e" fill-opacity="0.62" text-anchor="middle" textLength="7.4" lengthAdjust="spacingAndGlyphs">94</text>
<text x="147.1" y="400.7" font-family='"Liberation Sans", sans-serif' font-size="7.4" fill="#76828e" fill-opacity="0.62" text-anchor="middle" textLength="7.4" lengthAdjust="spacingAndGlyphs">93</text>
<text x="159.5" y="400.7" font-family='"Liberation Sans", sans-serif' font-size="7.4" fill="#76828e" fill-opacity="0.62" text-anchor="middle" textLength="7.4" lengthAdjust="spacingAndGlyphs">93</text>
<text x="171.9" y="405.0" font-family='"Liberation Sans", sans-serif' font-size="7.4" fill="#76828e" fill-opacity="0.62" text-anchor="middle" textLength="7.4" lengthAdjust="spacingAndGlyphs">91</text>
<text x="184.4" y="405.0" font-family='"Liberation Sans", sans-serif' font-size="7.4" fill="#76828e" fill-opacity="0.62" text-anchor="middle" textLength="7.4" lengthAdjust="spacingAndGlyphs">91</text>
<text x="196.8" y="407.2" font-family='"Liberation Sans", sans-serif' font-size="7.4" fill="#76828e" fill-opacity="0.62" text-anchor="middle" textLength="7.4" lengthAdjust="spacingAndGlyphs">90</text>
<text x="209.2" y="411.5" font-family='"Liberation Sans", sans-serif' font-size="7.4" fill="#76828e" fill-opacity="0.62" text-anchor="middle" textLength="7.4" lengthAdjust="spacingAndGlyphs">88</text>
<text x="221.6" y="411.5" font-family='"Liberation Sans", sans-serif' font-size="7.4" fill="#76828e" fill-opacity="0.62" text-anchor="middle" textLength="7.4" lengthAdjust="spacingAndGlyphs">88</text>
<text x="234.0" y="413.7" font-family='"Liberation Sans", sans-serif' font-size="7.4" fill="#76828e" fill-opacity="0.62" text-anchor="middle" textLength="7.4" lengthAdjust="spacingAndGlyphs">87</text>
<text x="246.4" y="413.7" font-family='"Liberation Sans", sans-serif' font-size="7.4" fill="#76828e" fill-opacity="0.62" text-anchor="middle" textLength="7.4" lengthAdjust="spacingAndGlyphs">87</text>
<text x="258.8" y="407.2" font-family='"Liberation Sans", sans-serif' font-size="7.4" fill="#76828e" fill-opacity="0.62" text-anchor="middle" textLength="7.4" lengthAdjust="spacingAndGlyphs">90</text>
<text x="271.2" y="400.7" font-family='"Liberation Sans", sans-serif' font-size="7.4" fill="#76828e" fill-opacity="0.62" text-anchor="middle" textLength="7.4" lengthAdjust="spacingAndGlyphs">93</text>
<text x="283.6" y="396.4" font-family='"Liberation Sans", sans-serif' font-size="7.4" fill="#76828e" fill-opacity="0.62" text-anchor="middle" textLength="7.4" lengthAdjust="spacingAndGlyphs">95</text>
<text x="296.1" y="394.2" font-family='"Liberation Sans", sans-serif' font-size="7.4" fill="#76828e" fill-opacity="0.62" text-anchor="middle" textLength="7.4" lengthAdjust="spacingAndGlyphs">96</text>
<text x="308.5" y="392.1" font-family='"Liberation Sans", sans-serif' font-size="7.4" fill="#76828e" fill-opacity="0.62" text-anchor="middle" textLength="7.4" lengthAdjust="spacingAndGlyphs">97</text>
<text x="320.9" y="392.1" font-family='"Liberation Sans", sans-serif' font-size="7.4" fill="#76828e" fill-opacity="0.62" text-anchor="middle" textLength="7.4" lengthAdjust="spacingAndGlyphs">97</text>
<text x="333.3" y="394.2" font-family='"Liberation Sans", sans-serif' font-size="7.4" fill="#76828e" fill-opacity="0.62" text-anchor="middle" textLength="7.4" lengthAdjust="spacingAndGlyphs">96</text>
<text x="345.7" y="394.2" font-family='"Liberation Sans", sans-serif' font-size="7.4" fill="#76828e" fill-opacity="0.62" text-anchor="middle" textLength="7.4" lengthAdjust="spacingAndGlyphs">96</text>
<text x="358.1" y="396.4" font-family='"Liberation Sans", sans-serif' font-size="7.4" fill="#76828e" fill-opacity="0.62" text-anchor="middle" textLength="7.4" lengthAdjust="spacingAndGlyphs">95</text>
<text x="370.5" y="396.4" font-family='"Liberation Sans", sans-serif' font-size="7.4" fill="#76828e" fill-opacity="0.62" text-anchor="middle" textLength="7.4" lengthAdjust="spacingAndGlyphs">95</text>
<text x="382.9" y="398.6" font-family='"Liberation Sans", sans-serif' font-size="7.4" fill="#76828e" fill-opacity="0.62" text-anchor="middle" textLength="7.4" lengthAdjust="spacingAndGlyphs">94</text>
<text x="395.3" y="400.7" font-family='"Liberation Sans", sans-serif' font-size="7.4" fill="#76828e" fill-opacity="0.62" text-anchor="middle" textLength="7.4" lengthAdjust="spacingAndGlyphs">93</text>
<text x="407.7" y="402.9" font-family='"Liberation Sans", sans-serif' font-size="7.4" fill="#76828e" fill-opacity="0.62" text-anchor="middle" textLength="7.4" lengthAdjust="spacingAndGlyphs">92</text>
<text x="420.1" y="402.9" font-family='"Liberation Sans", sans-serif' font-size="7.4" fill="#76828e" fill-opacity="0.62" text-anchor="middle" textLength="7.4" lengthAdjust="spacingAndGlyphs">92</text>
<text x="432.6" y="402.9" font-family='"Liberation Sans", sans-serif' font-size="7.4" fill="#76828e" fill-opacity="0.62" text-anchor="middle" textLength="7.4" lengthAdjust="spacingAndGlyphs">92</text>
<text x="445.0" y="405.0" font-family='"Liberation Sans", sans-serif' font-size="7.4" fill="#76828e" fill-opacity="0.62" text-anchor="middle" textLength="7.4" lengthAdjust="spacingAndGlyphs">91</text>
<text x="457.4" y="409.4" font-family='"Liberation Sans", sans-serif' font-size="7.4" fill="#76828e" fill-opacity="0.62" text-anchor="middle" textLength="7.4" lengthAdjust="spacingAndGlyphs">89</text>
<text x="469.8" y="407.2" font-family='"Liberation Sans", sans-serif' font-size="7.4" fill="#76828e" fill-opacity="0.62" text-anchor="middle" textLength="7.4" lengthAdjust="spacingAndGlyphs">90</text>
<text x="482.2" y="400.7" font-family='"Liberation Sans", sans-serif' font-size="7.4" fill="#76828e" fill-opacity="0.62" text-anchor="middle" textLength="7.4" lengthAdjust="spacingAndGlyphs">93</text>
<text x="494.6" y="398.6" font-family='"Liberation Sans", sans-serif' font-size="7.4" fill="#76828e" fill-opacity="0.62" text-anchor="middle" textLength="7.4" lengthAdjust="spacingAndGlyphs">94</text>
<text x="507.0" y="396.4" font-family='"Liberation Sans", sans-serif' font-size="7.4" fill="#76828e" fill-opacity="0.62" text-anchor="middle" textLength="7.4" lengthAdjust="spacingAndGlyphs">95</text>
<text x="519.4" y="394.2" font-family='"Liberation Sans", sans-serif' font-size="7.4" fill="#76828e" fill-opacity="0.62" text-anchor="middle" textLength="7.4" lengthAdjust="spacingAndGlyphs">96</text>
<text x="531.8" y="394.2" font-family='"Liberation Sans", sans-serif' font-size="7.4" fill="#76828e" fill-opacity="0.62" text-anchor="middle" textLength="7.4" lengthAdjust="spacingAndGlyphs">96</text>
<text x="544.2" y="394.2" font-family='"Liberation Sans", sans-serif' font-size="7.4" fill="#76828e" fill-opacity="0.62" text-anchor="middle" textLength="7.4" lengthAdjust="spacingAndGlyphs">96</text>
<text x="556.7" y="396.4" font-family='"Liberation Sans", sans-serif' font-size="7.4" fill="#76828e" fill-opacity="0.62" text-anchor="middle" textLength="7.4" lengthAdjust="spacingAndGlyphs">95</text>
<text x="569.1" y="396.4" font-family='"Liberation Sans", sans-serif' font-size="7.4" fill="#76828e" fill-opacity="0.62" text-anchor="middle" textLength="7.4" lengthAdjust="spacingAndGlyphs">95</text>
<text x="581.5" y="396.4" font-family='"Liberation Sans", sans-serif' font-size="7.4" fill="#76828e" fill-opacity="0.62" text-anchor="middle" textLength="7.4" lengthAdjust="spacingAndGlyphs">95</text>
<text x="593.9" y="398.6" font-family='"Liberation Sans", sans-serif' font-size="7.4" fill="#76828e" fill-opacity="0.62" text-anchor="middle" textLength="7.4" lengthAdjust="spacingAndGlyphs">94</text>
<text x="606.3" y="400.7" font-family='"Liberation Sans", sans-serif' font-size="7.4" fill="#76828e" fill-opacity="0.62" text-anchor="middle" textLength="7.4" lengthAdjust="spacingAndGlyphs">93</text>
<text x="618.7" y="400.7" font-family='"Liberation Sans", sans-serif' font-size="7.4" fill="#76828e" fill-opacity="0.62" text-anchor="middle" textLength="7.4" lengthAdjust="spacingAndGlyphs">93</text>
<text x="631.1" y="402.9" font-family='"Liberation Sans", sans-serif' font-size="7.4" fill="#76828e" fill-opacity="0.62" text-anchor="middle" textLength="7.4" lengthAdjust="spacingAndGlyphs">92</text>
<text x="643.5" y="405.0" font-family='"Liberation Sans", sans-serif' font-size="7.4" fill="#76828e" fill-opacity="0.62" text-anchor="middle" textLength="7.4" lengthAdjust="spacingAndGlyphs">91</text>
<text x="655.9" y="405.0" font-family='"Liberation Sans", sans-serif' font-size="7.4" fill="#76828e" fill-opacity="0.62" text-anchor="middle" textLength="7.4" lengthAdjust="spacingAndGlyphs">91</text>
<text x="668.4" y="407.2" font-family='"Liberation Sans", sans-serif' font-size="7.4" fill="#76828e" fill-opacity="0.62" text-anchor="middle" textLength="7.4" lengthAdjust="spacingAndGlyphs">90</text>
<text x="680.8" y="409.4" font-family='"Liberation Sans", sans-serif' font-size="7.4" fill="#76828e" fill-opacity="0.62" text-anchor="middle" textLength="7.4" lengthAdjust="spacingAndGlyphs">89</text>
<text x="693.2" y="409.4" font-family='"Liberation Sans", sans-serif' font-size="7.4" fill="#76828e" fill-opacity="0.62" text-anchor="middle" textLength="7.4" lengthAdjust="spacingAndGlyphs">89</text>
<text x="705.6" y="405.0" font-family='"Liberation Sans", sans-serif' font-size="7.4" fill="#76828e" fill-opacity="0.62" text-anchor="middle" textLength="7.4" lengthAdjust="spacingAndGlyphs">91</text>
<text x="718.0" y="400.7" font-family='"Liberation Sans", sans-serif' font-size="7.4" fill="#76828e" fill-opacity="0.62" text-anchor="middle" textLength="7.4" lengthAdjust="spacingAndGlyphs">93</text>
<text x="730.4" y="396.4" font-family='"Liberation Sans", sans-serif' font-size="7.4" fill="#76828e" fill-opacity="0.62" text-anchor="middle" textLength="7.4" lengthAdjust="spacingAndGlyphs">95</text>
<text x="742.8" y="396.4" font-family='"Liberation Sans", sans-serif' font-size="7.4" fill="#76828e" fill-opacity="0.62" text-anchor="middle" textLength="7.4" lengthAdjust="spacingAndGlyphs">95</text>
<text x="755.2" y="394.2" font-family='"Liberation Sans", sans-serif' font-size="7.4" fill="#76828e" fill-opacity="0.62" text-anchor="middle" textLength="7.4" lengthAdjust="spacingAndGlyphs">96</text>
<text x="767.6" y="394.2" font-family='"Liberation Sans", sans-serif' font-size="7.4" fill="#76828e" fill-opacity="0.62" text-anchor="middle" textLength="7.4" lengthAdjust="spacingAndGlyphs">96</text>
<text x="780.0" y="396.4" font-family='"Liberation Sans", sans-serif' font-size="7.4" fill="#76828e" fill-opacity="0.62" text-anchor="middle" textLength="7.4" lengthAdjust="spacingAndGlyphs">95</text>
<text x="792.5" y="396.4" font-family='"Liberation Sans", sans-serif' font-size="7.4" fill="#76828e" fill-opacity="0.62" text-anchor="middle" textLength="7.4" lengthAdjust="spacingAndGlyphs">95</text>
<text x="804.9" y="396.4" font-family='"Liberation Sans", sans-serif' font-size="7.4" fill="#76828e" fill-opacity="0.62" text-anchor="middle" textLength="7.4" lengthAdjust="spacingAndGlyphs">95</text>
<rect x="812.9" y="110" width="3" height="413" fill="#fff"/>
</svg>
<div id="labels">
<div style="left:2.9px;top:2.75px;font-size:11.4px;line-height:11.4px;color:#141414;font-weight:bold;">Data signals</div>
<a style="left:90.3px;top:2.16px;font-size:10.8px;line-height:10.8px;letter-spacing:0.55px;color:#1c86c6">Return to diagnostic page</a>
<div style="left:356.4px;top:12.64px;font-size:10.0px;line-height:10.0px;color:#303030;font-weight:normal;">Cheyne-Stokes</div>
<div style="left:448.7px;top:2.12px;font-size:9.9px;line-height:9.9px;color:#2a2a2a;font-weight:normal;">Central apneas</div>
<div style="left:535.2px;top:2.12px;font-size:9.9px;line-height:9.9px;color:#2a2a2a;font-weight:normal;">Obstructive apneas</div>
<div style="left:641.5px;top:2.12px;font-size:9.9px;line-height:9.9px;color:#2a2a2a;font-weight:normal;">Mixed apneas</div>
<div style="left:723.2px;top:2.12px;font-size:9.9px;line-height:9.9px;color:#2a2a2a;font-weight:normal;">Unclassified apneas</div>
<div style="left:448.7px;top:16.82px;font-size:9.9px;line-height:9.9px;color:#2a2a2a;font-weight:normal;">Snores</div>
<div style="left:535.2px;top:16.82px;font-size:9.9px;line-height:9.9px;color:#2a2a2a;font-weight:normal;">Hypopneas</div>
<div style="left:641.5px;top:16.82px;font-size:9.9px;line-height:9.9px;color:#2a2a2a;font-weight:normal;">Desaturation</div>
<div style="left:723.2px;top:16.82px;font-size:9.9px;line-height:9.9px;color:#2a2a2a;font-weight:normal;">Excluded data</div>
<div style="left:20.9px;top:87.75px;font-size:10.1px;line-height:10.1px;color:#2a2a2a;font-weight:normal;">10:14pm</div>
<div style="left:772.0px;top:87.75px;font-size:10.1px;line-height:10.1px;color:#2a2a2a;font-weight:normal;">5:43am</div>
<div style="left:2.3px;top:130.78px;font-size:9.95px;line-height:9.95px;color:#1e1e1e;font-weight:normal;">Events</div>
<div style="left:2.3px;top:196.78px;font-size:9.95px;line-height:9.95px;color:#1e1e1e;font-weight:normal;">Flow</div>
<div style="left:2.3px;top:276.28px;font-size:9.95px;line-height:9.95px;color:#1e1e1e;font-weight:normal;">Effort</div>
<div style="left:2.3px;top:330.28px;font-size:9.95px;line-height:9.95px;color:#1e1e1e;font-weight:normal;">Body</div>
<div style="left:2.3px;top:344.78px;font-size:9.95px;line-height:9.95px;color:#1e1e1e;font-weight:normal;">Position</div>
<div style="left:2.3px;top:392.38px;font-size:9.95px;line-height:9.95px;color:#1e1e1e;font-weight:normal;">Ox %</div>
<div style="left:2.3px;top:465.98px;font-size:9.95px;line-height:9.95px;color:#1e1e1e;font-weight:normal;">Pulse</div>
<div style="left:2.3px;top:499.78px;font-size:9.95px;line-height:9.95px;color:#1e1e1e;font-weight:normal;">Snore</div>
</div>
</body></html>
